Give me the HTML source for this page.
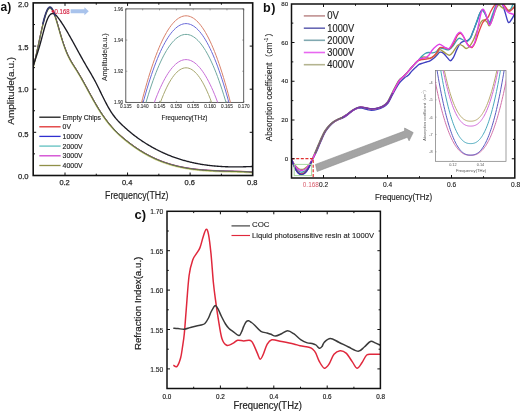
<!DOCTYPE html>
<html><head><meta charset="utf-8"><title>Figure</title>
<style>
html,body{margin:0;padding:0;background:#fff;width:520px;height:412px;overflow:hidden;}
svg{display:block;}
text{font-family:"Liberation Sans","Noto Sans CJK SC",Arial,sans-serif;font-variant-ligatures:none;font-feature-settings:"liga" 0,"clig" 0;}
</style></head><body>
<svg width="520" height="412" viewBox="0 0 520 412">
<rect width="520" height="412" fill="#fff"/>
<defs>
<clipPath id="clipA"><rect x="33.2" y="2.9" width="219.5" height="172.6"/></clipPath>
<clipPath id="clipAi"><rect x="125.8" y="8.9" width="117.89999999999999" height="93.5"/></clipPath>
<clipPath id="clipB"><rect x="291.5" y="4.0" width="223.29999999999995" height="174.0"/></clipPath>
<clipPath id="clipBi"><rect x="435.4" y="70.6" width="70.60000000000002" height="90.70000000000002"/></clipPath>
<clipPath id="clipC"><rect x="167.0" y="211.3" width="213.39999999999998" height="177.2"/></clipPath>
</defs>
<g clip-path="url(#clipA)" fill="none" stroke-linejoin="round">
<path d="M33.20,67.35 L33.95,64.66 L34.70,61.75 L35.45,58.64 L36.21,55.39 L36.96,52.01 L37.71,48.54 L38.46,45.01 L39.21,41.47 L39.96,37.93 L40.71,34.45 L41.47,31.03 L42.22,27.74 L42.97,24.58 L43.72,21.60 L44.47,18.84 L45.22,16.32 L45.97,14.08 L46.72,12.15 L47.48,10.56 L48.23,9.36 L48.98,8.56 L49.73,8.21 L50.48,8.31 L51.23,8.83 L51.98,9.74 L52.74,10.98 L53.49,12.53 L54.24,14.35 L54.99,16.39 L55.74,18.63 L56.49,21.03 L57.24,23.53 L58.00,26.12 L58.75,28.75 L59.50,31.38 L60.25,33.97 L61.00,36.51 L61.75,38.97 L62.50,41.35 L63.25,43.64 L64.01,45.85 L64.76,47.97 L65.51,49.98 L66.26,51.89 L67.01,53.69 L67.76,55.38 L68.51,56.97 L69.27,58.47 L70.02,59.89 L70.77,61.25 L71.52,62.54 L72.27,63.80 L73.02,65.01 L73.77,66.20 L74.53,67.38 L75.28,68.55 L76.03,69.73 L76.78,70.92 L77.53,72.14 L78.28,73.38 L79.03,74.64 L79.78,75.91 L80.54,77.21 L81.29,78.52 L82.04,79.84 L82.79,81.18 L83.54,82.53 L84.29,83.88 L85.04,85.25 L85.80,86.62 L86.55,87.99 L87.30,89.37 L88.05,90.75 L88.80,92.13 L89.55,93.50 L90.30,94.87 L91.06,96.24 L91.81,97.60 L92.56,98.96 L93.31,100.30 L94.06,101.63 L94.81,102.95 L95.56,104.26 L96.32,105.55 L97.07,106.82 L97.82,108.07 L98.57,109.31 L99.32,110.52 L100.07,111.70 L100.82,112.87 L101.57,114.01 L102.33,115.13 L103.08,116.23 L103.83,117.31 L104.58,118.36 L105.33,119.40 L106.08,120.41 L106.83,121.40 L107.59,122.38 L108.34,123.33 L109.09,124.26 L109.84,125.17 L110.59,126.07 L111.34,126.94 L112.09,127.79 L112.85,128.63 L113.60,129.45 L114.35,130.25 L115.10,131.03 L115.85,131.80 L116.60,132.55 L117.35,133.28 L118.10,134.00 L118.86,134.71 L119.61,135.41 L120.36,136.09 L121.11,136.76 L121.86,137.42 L122.61,138.06 L123.36,138.70 L124.12,139.33 L124.87,139.95 L125.62,140.56 L126.37,141.17 L127.12,141.77 L127.87,142.36 L128.62,142.94 L129.38,143.52 L130.13,144.09 L130.88,144.65 L131.63,145.21 L132.38,145.76 L133.13,146.30 L133.88,146.83 L134.63,147.36 L135.39,147.88 L136.14,148.40 L136.89,148.90 L137.64,149.40 L138.39,149.90 L139.14,150.38 L139.89,150.86 L140.65,151.34 L141.40,151.80 L142.15,152.26 L142.90,152.72 L143.65,153.16 L144.40,153.60 L145.15,154.03 L145.91,154.46 L146.66,154.88 L147.41,155.29 L148.16,155.70 L148.91,156.10 L149.66,156.49 L150.41,156.88 L151.17,157.26 L151.92,157.63 L152.67,158.00 L153.42,158.36 L154.17,158.71 L154.92,159.06 L155.67,159.40 L156.42,159.73 L157.18,160.06 L157.93,160.38 L158.68,160.70 L159.43,161.01 L160.18,161.31 L160.93,161.61 L161.68,161.90 L162.44,162.18 L163.19,162.46 L163.94,162.74 L164.69,163.00 L165.44,163.27 L166.19,163.52 L166.94,163.77 L167.70,164.02 L168.45,164.26 L169.20,164.49 L169.95,164.72 L170.70,164.95 L171.45,165.17 L172.20,165.38 L172.95,165.59 L173.71,165.79 L174.46,165.99 L175.21,166.19 L175.96,166.38 L176.71,166.56 L177.46,166.74 L178.21,166.92 L178.97,167.09 L179.72,167.26 L180.47,167.42 L181.22,167.58 L181.97,167.73 L182.72,167.88 L183.47,168.03 L184.23,168.17 L184.98,168.31 L185.73,168.44 L186.48,168.57 L187.23,168.70 L187.98,168.82 L188.73,168.94 L189.48,169.06 L190.24,169.17 L190.99,169.28 L191.74,169.38 L192.49,169.49 L193.24,169.59 L193.99,169.68 L194.74,169.77 L195.50,169.86 L196.25,169.95 L197.00,170.03 L197.75,170.11 L198.50,170.19 L199.25,170.27 L200.00,170.34 L200.76,170.41 L201.51,170.48 L202.26,170.54 L203.01,170.60 L203.76,170.66 L204.51,170.72 L205.26,170.78 L206.02,170.83 L206.77,170.88 L207.52,170.93 L208.27,170.98 L209.02,171.03 L209.77,171.07 L210.52,171.11 L211.27,171.15 L212.03,171.19 L212.78,171.23 L213.53,171.26 L214.28,171.30 L215.03,171.33 L215.78,171.36 L216.53,171.39 L217.29,171.42 L218.04,171.45 L218.79,171.48 L219.54,171.51 L220.29,171.53 L221.04,171.56 L221.79,171.58 L222.55,171.60 L223.30,171.62 L224.05,171.65 L224.80,171.67 L225.55,171.69 L226.30,171.71 L227.05,171.73 L227.80,171.75 L228.56,171.77 L229.31,171.79 L230.06,171.81 L230.81,171.83 L231.56,171.85 L232.31,171.87 L233.06,171.89 L233.82,171.91 L234.57,171.93 L235.32,171.95 L236.07,171.97 L236.82,172.00 L237.57,172.02 L238.32,172.04 L239.08,172.07 L239.83,172.09 L240.58,172.12 L241.33,172.14 L242.08,172.17 L242.83,172.20 L243.58,172.23 L244.33,172.26 L245.09,172.29 L245.84,172.33 L246.59,172.36 L247.34,172.40 L248.09,172.44 L248.84,172.48 L249.59,172.52 L250.35,172.56 L251.10,172.61 L251.85,172.65 L252.60,172.70" stroke="#d8d890" stroke-width="1.6"/>
<path d="M33.20,66.50 L33.95,63.81 L34.70,60.90 L35.45,57.79 L36.21,54.54 L36.96,51.16 L37.71,47.69 L38.46,44.16 L39.21,40.62 L39.96,37.08 L40.71,33.60 L41.47,30.18 L42.22,26.89 L42.97,23.73 L43.72,20.75 L44.47,17.99 L45.22,15.47 L45.97,13.23 L46.72,11.30 L47.48,9.71 L48.23,8.51 L48.98,7.71 L49.73,7.36 L50.48,7.46 L51.23,7.98 L51.98,8.89 L52.74,10.13 L53.49,11.68 L54.24,13.50 L54.99,15.54 L55.74,17.78 L56.49,20.18 L57.24,22.68 L58.00,25.27 L58.75,27.90 L59.50,30.53 L60.25,33.12 L61.00,35.66 L61.75,38.12 L62.50,40.50 L63.25,42.79 L64.01,45.00 L64.76,47.12 L65.51,49.13 L66.26,51.04 L67.01,52.84 L67.76,54.53 L68.51,56.12 L69.27,57.62 L70.02,59.04 L70.77,60.40 L71.52,61.69 L72.27,62.95 L73.02,64.16 L73.77,65.35 L74.53,66.53 L75.28,67.70 L76.03,68.88 L76.78,70.07 L77.53,71.29 L78.28,72.53 L79.03,73.79 L79.78,75.06 L80.54,76.36 L81.29,77.67 L82.04,78.99 L82.79,80.33 L83.54,81.68 L84.29,83.03 L85.04,84.40 L85.80,85.77 L86.55,87.14 L87.30,88.52 L88.05,89.90 L88.80,91.28 L89.55,92.65 L90.30,94.02 L91.06,95.39 L91.81,96.75 L92.56,98.11 L93.31,99.45 L94.06,100.78 L94.81,102.10 L95.56,103.41 L96.32,104.70 L97.07,105.97 L97.82,107.22 L98.57,108.46 L99.32,109.67 L100.07,110.85 L100.82,112.02 L101.57,113.16 L102.33,114.28 L103.08,115.38 L103.83,116.46 L104.58,117.51 L105.33,118.55 L106.08,119.56 L106.83,120.55 L107.59,121.53 L108.34,122.48 L109.09,123.41 L109.84,124.32 L110.59,125.22 L111.34,126.09 L112.09,126.94 L112.85,127.78 L113.60,128.60 L114.35,129.40 L115.10,130.18 L115.85,130.95 L116.60,131.70 L117.35,132.43 L118.10,133.15 L118.86,133.86 L119.61,134.56 L120.36,135.24 L121.11,135.91 L121.86,136.57 L122.61,137.21 L123.36,137.85 L124.12,138.48 L124.87,139.10 L125.62,139.71 L126.37,140.32 L127.12,140.92 L127.87,141.51 L128.62,142.09 L129.38,142.67 L130.13,143.24 L130.88,143.80 L131.63,144.36 L132.38,144.91 L133.13,145.45 L133.88,145.98 L134.63,146.51 L135.39,147.03 L136.14,147.55 L136.89,148.05 L137.64,148.55 L138.39,149.05 L139.14,149.53 L139.89,150.01 L140.65,150.49 L141.40,150.95 L142.15,151.41 L142.90,151.87 L143.65,152.31 L144.40,152.75 L145.15,153.18 L145.91,153.61 L146.66,154.03 L147.41,154.44 L148.16,154.85 L148.91,155.25 L149.66,155.64 L150.41,156.03 L151.17,156.41 L151.92,156.78 L152.67,157.15 L153.42,157.51 L154.17,157.86 L154.92,158.21 L155.67,158.55 L156.42,158.88 L157.18,159.21 L157.93,159.53 L158.68,159.85 L159.43,160.16 L160.18,160.46 L160.93,160.76 L161.68,161.05 L162.44,161.33 L163.19,161.61 L163.94,161.89 L164.69,162.15 L165.44,162.42 L166.19,162.67 L166.94,162.92 L167.70,163.17 L168.45,163.41 L169.20,163.64 L169.95,163.87 L170.70,164.10 L171.45,164.32 L172.20,164.53 L172.95,164.74 L173.71,164.94 L174.46,165.14 L175.21,165.34 L175.96,165.53 L176.71,165.71 L177.46,165.89 L178.21,166.07 L178.97,166.24 L179.72,166.41 L180.47,166.57 L181.22,166.73 L181.97,166.88 L182.72,167.03 L183.47,167.18 L184.23,167.32 L184.98,167.46 L185.73,167.59 L186.48,167.72 L187.23,167.85 L187.98,167.97 L188.73,168.09 L189.48,168.21 L190.24,168.32 L190.99,168.43 L191.74,168.53 L192.49,168.64 L193.24,168.74 L193.99,168.83 L194.74,168.92 L195.50,169.01 L196.25,169.10 L197.00,169.18 L197.75,169.26 L198.50,169.34 L199.25,169.42 L200.00,169.49 L200.76,169.56 L201.51,169.63 L202.26,169.69 L203.01,169.75 L203.76,169.81 L204.51,169.87 L205.26,169.93 L206.02,169.98 L206.77,170.03 L207.52,170.08 L208.27,170.13 L209.02,170.18 L209.77,170.22 L210.52,170.26 L211.27,170.30 L212.03,170.34 L212.78,170.38 L213.53,170.41 L214.28,170.45 L215.03,170.48 L215.78,170.51 L216.53,170.54 L217.29,170.57 L218.04,170.60 L218.79,170.63 L219.54,170.66 L220.29,170.68 L221.04,170.71 L221.79,170.73 L222.55,170.75 L223.30,170.77 L224.05,170.80 L224.80,170.82 L225.55,170.84 L226.30,170.86 L227.05,170.88 L227.80,170.90 L228.56,170.92 L229.31,170.94 L230.06,170.96 L230.81,170.98 L231.56,171.00 L232.31,171.02 L233.06,171.04 L233.82,171.06 L234.57,171.08 L235.32,171.10 L236.07,171.12 L236.82,171.15 L237.57,171.17 L238.32,171.19 L239.08,171.22 L239.83,171.24 L240.58,171.27 L241.33,171.29 L242.08,171.32 L242.83,171.35 L243.58,171.38 L244.33,171.41 L245.09,171.44 L245.84,171.48 L246.59,171.51 L247.34,171.55 L248.09,171.59 L248.84,171.63 L249.59,171.67 L250.35,171.71 L251.10,171.76 L251.85,171.80 L252.60,171.85" stroke="#e04040" stroke-width="1.0"/>
<path d="M33.20,66.65 L33.95,63.96 L34.70,61.05 L35.45,57.94 L36.21,54.69 L36.96,51.31 L37.71,47.84 L38.46,44.31 L39.21,40.77 L39.96,37.23 L40.71,33.75 L41.47,30.33 L42.22,27.04 L42.97,23.88 L43.72,20.90 L44.47,18.14 L45.22,15.62 L45.97,13.38 L46.72,11.45 L47.48,9.86 L48.23,8.66 L48.98,7.86 L49.73,7.51 L50.48,7.61 L51.23,8.13 L51.98,9.04 L52.74,10.28 L53.49,11.83 L54.24,13.65 L54.99,15.69 L55.74,17.93 L56.49,20.33 L57.24,22.83 L58.00,25.42 L58.75,28.05 L59.50,30.68 L60.25,33.27 L61.00,35.81 L61.75,38.27 L62.50,40.65 L63.25,42.94 L64.01,45.15 L64.76,47.27 L65.51,49.28 L66.26,51.19 L67.01,52.99 L67.76,54.68 L68.51,56.27 L69.27,57.77 L70.02,59.19 L70.77,60.55 L71.52,61.84 L72.27,63.10 L73.02,64.31 L73.77,65.50 L74.53,66.68 L75.28,67.85 L76.03,69.03 L76.78,70.22 L77.53,71.44 L78.28,72.68 L79.03,73.94 L79.78,75.21 L80.54,76.51 L81.29,77.82 L82.04,79.14 L82.79,80.48 L83.54,81.83 L84.29,83.18 L85.04,84.55 L85.80,85.92 L86.55,87.29 L87.30,88.67 L88.05,90.05 L88.80,91.43 L89.55,92.80 L90.30,94.17 L91.06,95.54 L91.81,96.90 L92.56,98.26 L93.31,99.60 L94.06,100.93 L94.81,102.25 L95.56,103.56 L96.32,104.85 L97.07,106.12 L97.82,107.37 L98.57,108.61 L99.32,109.82 L100.07,111.00 L100.82,112.17 L101.57,113.31 L102.33,114.43 L103.08,115.53 L103.83,116.61 L104.58,117.66 L105.33,118.70 L106.08,119.71 L106.83,120.70 L107.59,121.68 L108.34,122.63 L109.09,123.56 L109.84,124.47 L110.59,125.37 L111.34,126.24 L112.09,127.09 L112.85,127.93 L113.60,128.75 L114.35,129.55 L115.10,130.33 L115.85,131.10 L116.60,131.85 L117.35,132.58 L118.10,133.30 L118.86,134.01 L119.61,134.71 L120.36,135.39 L121.11,136.06 L121.86,136.72 L122.61,137.36 L123.36,138.00 L124.12,138.63 L124.87,139.25 L125.62,139.86 L126.37,140.47 L127.12,141.07 L127.87,141.66 L128.62,142.24 L129.38,142.82 L130.13,143.39 L130.88,143.95 L131.63,144.51 L132.38,145.06 L133.13,145.60 L133.88,146.13 L134.63,146.66 L135.39,147.18 L136.14,147.70 L136.89,148.20 L137.64,148.70 L138.39,149.20 L139.14,149.68 L139.89,150.16 L140.65,150.64 L141.40,151.10 L142.15,151.56 L142.90,152.02 L143.65,152.46 L144.40,152.90 L145.15,153.33 L145.91,153.76 L146.66,154.18 L147.41,154.59 L148.16,155.00 L148.91,155.40 L149.66,155.79 L150.41,156.18 L151.17,156.56 L151.92,156.93 L152.67,157.30 L153.42,157.66 L154.17,158.01 L154.92,158.36 L155.67,158.70 L156.42,159.03 L157.18,159.36 L157.93,159.68 L158.68,160.00 L159.43,160.31 L160.18,160.61 L160.93,160.91 L161.68,161.20 L162.44,161.48 L163.19,161.76 L163.94,162.04 L164.69,162.30 L165.44,162.57 L166.19,162.82 L166.94,163.07 L167.70,163.32 L168.45,163.56 L169.20,163.79 L169.95,164.02 L170.70,164.25 L171.45,164.47 L172.20,164.68 L172.95,164.89 L173.71,165.09 L174.46,165.29 L175.21,165.49 L175.96,165.68 L176.71,165.86 L177.46,166.04 L178.21,166.22 L178.97,166.39 L179.72,166.56 L180.47,166.72 L181.22,166.88 L181.97,167.03 L182.72,167.18 L183.47,167.33 L184.23,167.47 L184.98,167.61 L185.73,167.74 L186.48,167.87 L187.23,168.00 L187.98,168.12 L188.73,168.24 L189.48,168.36 L190.24,168.47 L190.99,168.58 L191.74,168.68 L192.49,168.79 L193.24,168.89 L193.99,168.98 L194.74,169.07 L195.50,169.16 L196.25,169.25 L197.00,169.33 L197.75,169.41 L198.50,169.49 L199.25,169.57 L200.00,169.64 L200.76,169.71 L201.51,169.78 L202.26,169.84 L203.01,169.90 L203.76,169.96 L204.51,170.02 L205.26,170.08 L206.02,170.13 L206.77,170.18 L207.52,170.23 L208.27,170.28 L209.02,170.33 L209.77,170.37 L210.52,170.41 L211.27,170.45 L212.03,170.49 L212.78,170.53 L213.53,170.56 L214.28,170.60 L215.03,170.63 L215.78,170.66 L216.53,170.69 L217.29,170.72 L218.04,170.75 L218.79,170.78 L219.54,170.81 L220.29,170.83 L221.04,170.86 L221.79,170.88 L222.55,170.90 L223.30,170.92 L224.05,170.95 L224.80,170.97 L225.55,170.99 L226.30,171.01 L227.05,171.03 L227.80,171.05 L228.56,171.07 L229.31,171.09 L230.06,171.11 L230.81,171.13 L231.56,171.15 L232.31,171.17 L233.06,171.19 L233.82,171.21 L234.57,171.23 L235.32,171.25 L236.07,171.27 L236.82,171.30 L237.57,171.32 L238.32,171.34 L239.08,171.37 L239.83,171.39 L240.58,171.42 L241.33,171.44 L242.08,171.47 L242.83,171.50 L243.58,171.53 L244.33,171.56 L245.09,171.59 L245.84,171.63 L246.59,171.66 L247.34,171.70 L248.09,171.74 L248.84,171.78 L249.59,171.82 L250.35,171.86 L251.10,171.91 L251.85,171.95 L252.60,172.00" stroke="#4040d0" stroke-width="1.0"/>
<path d="M33.20,66.90 L33.95,64.21 L34.70,61.30 L35.45,58.19 L36.21,54.94 L36.96,51.56 L37.71,48.09 L38.46,44.56 L39.21,41.02 L39.96,37.48 L40.71,34.00 L41.47,30.58 L42.22,27.29 L42.97,24.13 L43.72,21.15 L44.47,18.39 L45.22,15.87 L45.97,13.63 L46.72,11.70 L47.48,10.11 L48.23,8.91 L48.98,8.11 L49.73,7.76 L50.48,7.86 L51.23,8.38 L51.98,9.29 L52.74,10.53 L53.49,12.08 L54.24,13.90 L54.99,15.94 L55.74,18.18 L56.49,20.58 L57.24,23.08 L58.00,25.67 L58.75,28.30 L59.50,30.93 L60.25,33.52 L61.00,36.06 L61.75,38.52 L62.50,40.90 L63.25,43.19 L64.01,45.40 L64.76,47.52 L65.51,49.53 L66.26,51.44 L67.01,53.24 L67.76,54.93 L68.51,56.52 L69.27,58.02 L70.02,59.44 L70.77,60.80 L71.52,62.09 L72.27,63.35 L73.02,64.56 L73.77,65.75 L74.53,66.93 L75.28,68.10 L76.03,69.28 L76.78,70.47 L77.53,71.69 L78.28,72.93 L79.03,74.19 L79.78,75.46 L80.54,76.76 L81.29,78.07 L82.04,79.39 L82.79,80.73 L83.54,82.08 L84.29,83.43 L85.04,84.80 L85.80,86.17 L86.55,87.54 L87.30,88.92 L88.05,90.30 L88.80,91.68 L89.55,93.05 L90.30,94.42 L91.06,95.79 L91.81,97.15 L92.56,98.51 L93.31,99.85 L94.06,101.18 L94.81,102.50 L95.56,103.81 L96.32,105.10 L97.07,106.37 L97.82,107.62 L98.57,108.86 L99.32,110.07 L100.07,111.25 L100.82,112.42 L101.57,113.56 L102.33,114.68 L103.08,115.78 L103.83,116.86 L104.58,117.91 L105.33,118.95 L106.08,119.96 L106.83,120.95 L107.59,121.93 L108.34,122.88 L109.09,123.81 L109.84,124.72 L110.59,125.62 L111.34,126.49 L112.09,127.34 L112.85,128.18 L113.60,129.00 L114.35,129.80 L115.10,130.58 L115.85,131.35 L116.60,132.10 L117.35,132.83 L118.10,133.55 L118.86,134.26 L119.61,134.96 L120.36,135.64 L121.11,136.31 L121.86,136.97 L122.61,137.61 L123.36,138.25 L124.12,138.88 L124.87,139.50 L125.62,140.11 L126.37,140.72 L127.12,141.32 L127.87,141.91 L128.62,142.49 L129.38,143.07 L130.13,143.64 L130.88,144.20 L131.63,144.76 L132.38,145.31 L133.13,145.85 L133.88,146.38 L134.63,146.91 L135.39,147.43 L136.14,147.95 L136.89,148.45 L137.64,148.95 L138.39,149.45 L139.14,149.93 L139.89,150.41 L140.65,150.89 L141.40,151.35 L142.15,151.81 L142.90,152.27 L143.65,152.71 L144.40,153.15 L145.15,153.58 L145.91,154.01 L146.66,154.43 L147.41,154.84 L148.16,155.25 L148.91,155.65 L149.66,156.04 L150.41,156.43 L151.17,156.81 L151.92,157.18 L152.67,157.55 L153.42,157.91 L154.17,158.26 L154.92,158.61 L155.67,158.95 L156.42,159.28 L157.18,159.61 L157.93,159.93 L158.68,160.25 L159.43,160.56 L160.18,160.86 L160.93,161.16 L161.68,161.45 L162.44,161.73 L163.19,162.01 L163.94,162.29 L164.69,162.55 L165.44,162.82 L166.19,163.07 L166.94,163.32 L167.70,163.57 L168.45,163.81 L169.20,164.04 L169.95,164.27 L170.70,164.50 L171.45,164.72 L172.20,164.93 L172.95,165.14 L173.71,165.34 L174.46,165.54 L175.21,165.74 L175.96,165.93 L176.71,166.11 L177.46,166.29 L178.21,166.47 L178.97,166.64 L179.72,166.81 L180.47,166.97 L181.22,167.13 L181.97,167.28 L182.72,167.43 L183.47,167.58 L184.23,167.72 L184.98,167.86 L185.73,167.99 L186.48,168.12 L187.23,168.25 L187.98,168.37 L188.73,168.49 L189.48,168.61 L190.24,168.72 L190.99,168.83 L191.74,168.93 L192.49,169.04 L193.24,169.14 L193.99,169.23 L194.74,169.32 L195.50,169.41 L196.25,169.50 L197.00,169.58 L197.75,169.66 L198.50,169.74 L199.25,169.82 L200.00,169.89 L200.76,169.96 L201.51,170.03 L202.26,170.09 L203.01,170.15 L203.76,170.21 L204.51,170.27 L205.26,170.33 L206.02,170.38 L206.77,170.43 L207.52,170.48 L208.27,170.53 L209.02,170.58 L209.77,170.62 L210.52,170.66 L211.27,170.70 L212.03,170.74 L212.78,170.78 L213.53,170.81 L214.28,170.85 L215.03,170.88 L215.78,170.91 L216.53,170.94 L217.29,170.97 L218.04,171.00 L218.79,171.03 L219.54,171.06 L220.29,171.08 L221.04,171.11 L221.79,171.13 L222.55,171.15 L223.30,171.17 L224.05,171.20 L224.80,171.22 L225.55,171.24 L226.30,171.26 L227.05,171.28 L227.80,171.30 L228.56,171.32 L229.31,171.34 L230.06,171.36 L230.81,171.38 L231.56,171.40 L232.31,171.42 L233.06,171.44 L233.82,171.46 L234.57,171.48 L235.32,171.50 L236.07,171.52 L236.82,171.55 L237.57,171.57 L238.32,171.59 L239.08,171.62 L239.83,171.64 L240.58,171.67 L241.33,171.69 L242.08,171.72 L242.83,171.75 L243.58,171.78 L244.33,171.81 L245.09,171.84 L245.84,171.88 L246.59,171.91 L247.34,171.95 L248.09,171.99 L248.84,172.03 L249.59,172.07 L250.35,172.11 L251.10,172.16 L251.85,172.20 L252.60,172.25" stroke="#6a7a40" stroke-width="1.15"/>
<path d="M33.20,66.04 L33.95,63.66 L34.70,61.35 L35.45,59.09 L36.21,56.84 L36.96,54.57 L37.71,52.26 L38.46,49.88 L39.21,47.40 L39.96,44.78 L40.71,42.05 L41.47,39.24 L42.22,36.39 L42.97,33.55 L43.72,30.75 L44.47,28.05 L45.22,25.49 L45.97,23.10 L46.72,20.94 L47.48,19.04 L48.23,17.45 L48.98,16.15 L49.73,15.14 L50.48,14.39 L51.23,13.89 L51.98,13.62 L52.74,13.56 L53.49,13.70 L54.24,14.01 L54.99,14.48 L55.74,15.08 L56.49,15.81 L57.24,16.64 L58.00,17.56 L58.75,18.55 L59.50,19.58 L60.25,20.65 L61.00,21.75 L61.75,22.88 L62.50,24.03 L63.25,25.20 L64.01,26.40 L64.76,27.62 L65.51,28.86 L66.26,30.12 L67.01,31.39 L67.76,32.68 L68.51,33.99 L69.27,35.31 L70.02,36.64 L70.77,37.98 L71.52,39.33 L72.27,40.68 L73.02,42.04 L73.77,43.41 L74.53,44.78 L75.28,46.15 L76.03,47.53 L76.78,48.90 L77.53,50.26 L78.28,51.63 L79.03,52.99 L79.78,54.35 L80.54,55.70 L81.29,57.05 L82.04,58.39 L82.79,59.73 L83.54,61.06 L84.29,62.39 L85.04,63.70 L85.80,65.01 L86.55,66.31 L87.30,67.61 L88.05,68.89 L88.80,70.17 L89.55,71.43 L90.30,72.70 L91.06,73.97 L91.81,75.25 L92.56,76.54 L93.31,77.87 L94.06,79.22 L94.81,80.61 L95.56,82.05 L96.32,83.51 L97.07,85.00 L97.82,86.51 L98.57,88.03 L99.32,89.57 L100.07,91.11 L100.82,92.65 L101.57,94.19 L102.33,95.72 L103.08,97.24 L103.83,98.75 L104.58,100.24 L105.33,101.71 L106.08,103.16 L106.83,104.57 L107.59,105.96 L108.34,107.31 L109.09,108.63 L109.84,109.90 L110.59,111.12 L111.34,112.30 L112.09,113.43 L112.85,114.50 L113.60,115.53 L114.35,116.51 L115.10,117.46 L115.85,118.37 L116.60,119.24 L117.35,120.09 L118.10,120.91 L118.86,121.70 L119.61,122.47 L120.36,123.23 L121.11,123.97 L121.86,124.70 L122.61,125.41 L123.36,126.12 L124.12,126.83 L124.87,127.52 L125.62,128.20 L126.37,128.87 L127.12,129.53 L127.87,130.19 L128.62,130.83 L129.38,131.47 L130.13,132.10 L130.88,132.72 L131.63,133.33 L132.38,133.93 L133.13,134.53 L133.88,135.11 L134.63,135.69 L135.39,136.26 L136.14,136.83 L136.89,137.38 L137.64,137.93 L138.39,138.47 L139.14,139.00 L139.89,139.53 L140.65,140.05 L141.40,140.56 L142.15,141.07 L142.90,141.56 L143.65,142.06 L144.40,142.54 L145.15,143.02 L145.91,143.49 L146.66,143.96 L147.41,144.42 L148.16,144.87 L148.91,145.32 L149.66,145.76 L150.41,146.20 L151.17,146.63 L151.92,147.06 L152.67,147.48 L153.42,147.89 L154.17,148.30 L154.92,148.70 L155.67,149.10 L156.42,149.50 L157.18,149.88 L157.93,150.26 L158.68,150.64 L159.43,151.01 L160.18,151.38 L160.93,151.74 L161.68,152.09 L162.44,152.44 L163.19,152.79 L163.94,153.13 L164.69,153.47 L165.44,153.80 L166.19,154.12 L166.94,154.44 L167.70,154.76 L168.45,155.07 L169.20,155.37 L169.95,155.67 L170.70,155.97 L171.45,156.26 L172.20,156.54 L172.95,156.82 L173.71,157.10 L174.46,157.37 L175.21,157.64 L175.96,157.90 L176.71,158.16 L177.46,158.42 L178.21,158.67 L178.97,158.91 L179.72,159.15 L180.47,159.39 L181.22,159.62 L181.97,159.84 L182.72,160.07 L183.47,160.29 L184.23,160.50 L184.98,160.71 L185.73,160.92 L186.48,161.12 L187.23,161.32 L187.98,161.51 L188.73,161.70 L189.48,161.89 L190.24,162.07 L190.99,162.25 L191.74,162.42 L192.49,162.59 L193.24,162.76 L193.99,162.92 L194.74,163.08 L195.50,163.23 L196.25,163.38 L197.00,163.53 L197.75,163.67 L198.50,163.81 L199.25,163.95 L200.00,164.08 L200.76,164.21 L201.51,164.34 L202.26,164.46 L203.01,164.58 L203.76,164.69 L204.51,164.81 L205.26,164.92 L206.02,165.02 L206.77,165.12 L207.52,165.22 L208.27,165.32 L209.02,165.41 L209.77,165.50 L210.52,165.59 L211.27,165.67 L212.03,165.75 L212.78,165.83 L213.53,165.90 L214.28,165.97 L215.03,166.04 L215.78,166.11 L216.53,166.17 L217.29,166.23 L218.04,166.29 L218.79,166.34 L219.54,166.39 L220.29,166.44 L221.04,166.49 L221.79,166.53 L222.55,166.57 L223.30,166.61 L224.05,166.65 L224.80,166.68 L225.55,166.71 L226.30,166.74 L227.05,166.76 L227.80,166.79 L228.56,166.81 L229.31,166.83 L230.06,166.85 L230.81,166.86 L231.56,166.87 L232.31,166.88 L233.06,166.89 L233.82,166.90 L234.57,166.90 L235.32,166.90 L236.07,166.90 L236.82,166.90 L237.57,166.89 L238.32,166.89 L239.08,166.88 L239.83,166.87 L240.58,166.86 L241.33,166.84 L242.08,166.83 L242.83,166.81 L243.58,166.79 L244.33,166.77 L245.09,166.75 L245.84,166.73 L246.59,166.70 L247.34,166.67 L248.09,166.65 L248.84,166.62 L249.59,166.59 L250.35,166.55 L251.10,166.52 L251.85,166.48 L252.60,166.45" stroke="#1c1c24" stroke-width="1.35"/>
<path d="M42.97,23.48 L43.72,20.50 L44.47,17.74 L45.22,15.22 L45.97,12.98 L46.72,11.05 L47.48,9.46 L48.23,8.26 L48.98,7.46 L49.73,7.11 L50.48,7.21 L51.23,7.73 L51.98,8.64 L52.74,9.88 L53.49,11.43 L54.24,13.25 L54.99,15.29" stroke="#2c3470" stroke-width="1.7" stroke-linecap="round" opacity="0.9"/>
</g>
<rect x="125.8" y="8.9" width="117.89999999999999" height="93.5" fill="#fff" stroke="#444" stroke-width="0.85"/>
<g clip-path="url(#clipAi)" fill="none">
<path d="M120.00,207.03 L121.50,198.43 L123.00,190.04 L124.50,181.84 L126.00,173.84 L127.50,166.04 L129.00,158.43 L130.50,151.02 L132.00,143.81 L133.50,136.80 L135.00,129.98 L136.50,123.37 L138.00,116.95 L139.50,110.72 L141.00,104.70 L142.50,98.87 L144.00,93.24 L145.50,87.81 L147.00,82.57 L148.50,77.53 L150.00,72.69 L151.50,68.05 L153.00,63.61 L154.50,59.36 L156.00,55.31 L157.50,51.46 L159.00,47.80 L160.50,44.35 L162.00,41.09 L163.50,38.02 L165.00,35.16 L166.50,32.49 L168.00,30.02 L169.50,27.75 L171.00,25.68 L172.50,23.80 L174.00,22.12 L175.50,20.64 L177.00,19.36 L178.50,18.27 L180.00,17.38 L181.50,16.69 L183.00,16.20 L184.50,15.90 L186.00,15.80 L187.50,15.90 L189.00,16.20 L190.50,16.69 L192.00,17.38 L193.50,18.27 L195.00,19.36 L196.50,20.64 L198.00,22.12 L199.50,23.80 L201.00,25.68 L202.50,27.75 L204.00,30.02 L205.50,32.49 L207.00,35.16 L208.50,38.02 L210.00,41.09 L211.50,44.35 L213.00,47.80 L214.50,51.46 L216.00,55.31 L217.50,59.36 L219.00,63.61 L220.50,68.05 L222.00,72.69 L223.50,77.53 L225.00,82.57 L226.50,87.81 L228.00,93.24 L229.50,98.87 L231.00,104.70 L232.50,110.72 L234.00,116.95 L235.50,123.37 L237.00,129.98 L238.50,136.80 L240.00,143.81 L241.50,151.02 L243.00,158.43 L244.50,166.04 L246.00,173.84 L247.50,181.84" stroke="#d8806a" stroke-width="1.0"/>
<path d="M120.00,210.47 L121.50,202.07 L123.00,193.87 L124.50,185.86 L126.00,178.04 L127.50,170.41 L129.00,162.98 L130.50,155.74 L132.00,148.70 L133.50,141.84 L135.00,135.18 L136.50,128.72 L138.00,122.44 L139.50,116.36 L141.00,110.47 L142.50,104.78 L144.00,99.28 L145.50,93.97 L147.00,88.85 L148.50,83.93 L150.00,79.20 L151.50,74.66 L153.00,70.32 L154.50,66.17 L156.00,62.21 L157.50,58.45 L159.00,54.87 L160.50,51.50 L162.00,48.31 L163.50,45.32 L165.00,42.52 L166.50,39.91 L168.00,37.50 L169.50,35.28 L171.00,33.25 L172.50,31.42 L174.00,29.78 L175.50,28.33 L177.00,27.07 L178.50,26.01 L180.00,25.14 L181.50,24.47 L183.00,23.99 L184.50,23.70 L186.00,23.60 L187.50,23.70 L189.00,23.99 L190.50,24.47 L192.00,25.14 L193.50,26.01 L195.00,27.07 L196.50,28.33 L198.00,29.78 L199.50,31.42 L201.00,33.25 L202.50,35.28 L204.00,37.50 L205.50,39.91 L207.00,42.52 L208.50,45.32 L210.00,48.31 L211.50,51.50 L213.00,54.87 L214.50,58.45 L216.00,62.21 L217.50,66.17 L219.00,70.32 L220.50,74.66 L222.00,79.20 L223.50,83.93 L225.00,88.85 L226.50,93.97 L228.00,99.28 L229.50,104.78 L231.00,110.47 L232.50,116.36 L234.00,122.44 L235.50,128.72 L237.00,135.18 L238.50,141.84 L240.00,148.70 L241.50,155.74 L243.00,162.98 L244.50,170.41 L246.00,178.04 L247.50,185.86" stroke="#6a6ad8" stroke-width="1.0"/>
<path d="M120.00,219.53 L121.50,211.21 L123.00,203.08 L124.50,195.15 L126.00,187.40 L127.50,179.85 L129.00,172.48 L130.50,165.31 L132.00,158.33 L133.50,151.54 L135.00,144.94 L136.50,138.54 L138.00,132.32 L139.50,126.30 L141.00,120.46 L142.50,114.82 L144.00,109.37 L145.50,104.11 L147.00,99.04 L148.50,94.17 L150.00,89.48 L151.50,84.99 L153.00,80.68 L154.50,76.57 L156.00,72.65 L157.50,68.92 L159.00,65.38 L160.50,62.04 L162.00,58.88 L163.50,55.92 L165.00,53.14 L166.50,50.56 L168.00,48.17 L169.50,45.97 L171.00,43.96 L172.50,42.15 L174.00,40.52 L175.50,39.09 L177.00,37.84 L178.50,36.79 L180.00,35.93 L181.50,35.26 L183.00,34.78 L184.50,34.50 L186.00,34.40 L187.50,34.50 L189.00,34.78 L190.50,35.26 L192.00,35.93 L193.50,36.79 L195.00,37.84 L196.50,39.09 L198.00,40.52 L199.50,42.15 L201.00,43.96 L202.50,45.97 L204.00,48.17 L205.50,50.56 L207.00,53.14 L208.50,55.92 L210.00,58.88 L211.50,62.04 L213.00,65.38 L214.50,68.92 L216.00,72.65 L217.50,76.57 L219.00,80.68 L220.50,84.99 L222.00,89.48 L223.50,94.17 L225.00,99.04 L226.50,104.11 L228.00,109.37 L229.50,114.82 L231.00,120.46 L232.50,126.30 L234.00,132.32 L235.50,138.54 L237.00,144.94 L238.50,151.54 L240.00,158.33 L241.50,165.31 L243.00,172.48 L244.50,179.85 L246.00,187.40 L247.50,195.15" stroke="#70a8a0" stroke-width="1.0"/>
<path d="M120.00,245.60 L121.50,237.24 L123.00,229.08 L124.50,221.10 L126.00,213.32 L127.50,205.73 L129.00,198.33 L130.50,191.13 L132.00,184.11 L133.50,177.29 L135.00,170.66 L136.50,164.23 L138.00,157.98 L139.50,151.93 L141.00,146.07 L142.50,140.40 L144.00,134.92 L145.50,129.64 L147.00,124.55 L148.50,119.65 L150.00,114.94 L151.50,110.42 L153.00,106.10 L154.50,101.97 L156.00,98.03 L157.50,94.28 L159.00,90.73 L160.50,87.37 L162.00,84.20 L163.50,81.22 L165.00,78.43 L166.50,75.84 L168.00,73.43 L169.50,71.23 L171.00,69.21 L172.50,67.38 L174.00,65.75 L175.50,64.31 L177.00,63.06 L178.50,62.00 L180.00,61.14 L181.50,60.46 L183.00,59.98 L184.50,59.70 L186.00,59.60 L187.50,59.70 L189.00,59.98 L190.50,60.46 L192.00,61.14 L193.50,62.00 L195.00,63.06 L196.50,64.31 L198.00,65.75 L199.50,67.38 L201.00,69.21 L202.50,71.23 L204.00,73.43 L205.50,75.84 L207.00,78.43 L208.50,81.22 L210.00,84.20 L211.50,87.37 L213.00,90.73 L214.50,94.28 L216.00,98.03 L217.50,101.97 L219.00,106.10 L220.50,110.42 L222.00,114.94 L223.50,119.65 L225.00,124.55 L226.50,129.64 L228.00,134.92 L229.50,140.40 L231.00,146.07 L232.50,151.93 L234.00,157.98 L235.50,164.23 L237.00,170.66 L238.50,177.29 L240.00,184.11 L241.50,191.13 L243.00,198.33 L244.50,205.73 L246.00,213.32 L247.50,221.10" stroke="#c870d8" stroke-width="1.0"/>
<path d="M120.00,297.80 L121.50,287.46 L123.00,277.36 L124.50,267.50 L126.00,257.88 L127.50,248.49 L129.00,239.35 L130.50,230.44 L132.00,221.76 L133.50,213.33 L135.00,205.13 L136.50,197.17 L138.00,189.45 L139.50,181.97 L141.00,174.72 L142.50,167.71 L144.00,160.94 L145.50,154.41 L147.00,148.11 L148.50,142.05 L150.00,136.23 L151.50,130.65 L153.00,125.30 L154.50,120.19 L156.00,115.32 L157.50,110.69 L159.00,106.29 L160.50,102.13 L162.00,98.21 L163.50,94.53 L165.00,91.08 L166.50,87.88 L168.00,84.91 L169.50,82.17 L171.00,79.68 L172.50,77.42 L174.00,75.40 L175.50,73.62 L177.00,72.08 L178.50,70.77 L180.00,69.70 L181.50,68.87 L183.00,68.28 L184.50,67.92 L186.00,67.80 L187.50,67.92 L189.00,68.28 L190.50,68.87 L192.00,69.70 L193.50,70.77 L195.00,72.08 L196.50,73.62 L198.00,75.40 L199.50,77.42 L201.00,79.68 L202.50,82.17 L204.00,84.91 L205.50,87.88 L207.00,91.08 L208.50,94.53 L210.00,98.21 L211.50,102.13 L213.00,106.29 L214.50,110.69 L216.00,115.32 L217.50,120.19 L219.00,125.30 L220.50,130.65 L222.00,136.23 L223.50,142.05 L225.00,148.11 L226.50,154.41 L228.00,160.94 L229.50,167.71 L231.00,174.72 L232.50,181.97 L234.00,189.45 L235.50,197.17 L237.00,205.13 L238.50,213.33 L240.00,221.76 L241.50,230.44 L243.00,239.35 L244.50,248.49 L246.00,257.88 L247.50,267.50" stroke="#a8a870" stroke-width="1.0"/>
</g>
<line x1="125.80" y1="102.4" x2="125.80" y2="100.9" stroke="#555" stroke-width="0.5"/>
<line x1="125.80" y1="8.9" x2="125.80" y2="10.4" stroke="#555" stroke-width="0.5"/>
<text x="125.8" y="108.3" font-size="4.7" text-anchor="middle" fill="#333" font-weight="normal" stroke="#333" stroke-width="0.1" >0.135</text>
<line x1="142.66" y1="102.4" x2="142.66" y2="100.9" stroke="#555" stroke-width="0.5"/>
<line x1="142.66" y1="8.9" x2="142.66" y2="10.4" stroke="#555" stroke-width="0.5"/>
<text x="142.66" y="108.3" font-size="4.7" text-anchor="middle" fill="#333" font-weight="normal" stroke="#333" stroke-width="0.1" >0.140</text>
<line x1="159.52" y1="102.4" x2="159.52" y2="100.9" stroke="#555" stroke-width="0.5"/>
<line x1="159.52" y1="8.9" x2="159.52" y2="10.4" stroke="#555" stroke-width="0.5"/>
<text x="159.52" y="108.3" font-size="4.7" text-anchor="middle" fill="#333" font-weight="normal" stroke="#333" stroke-width="0.1" >0.145</text>
<line x1="176.38" y1="102.4" x2="176.38" y2="100.9" stroke="#555" stroke-width="0.5"/>
<line x1="176.38" y1="8.9" x2="176.38" y2="10.4" stroke="#555" stroke-width="0.5"/>
<text x="176.38" y="108.3" font-size="4.7" text-anchor="middle" fill="#333" font-weight="normal" stroke="#333" stroke-width="0.1" >0.150</text>
<line x1="193.24" y1="102.4" x2="193.24" y2="100.9" stroke="#555" stroke-width="0.5"/>
<line x1="193.24" y1="8.9" x2="193.24" y2="10.4" stroke="#555" stroke-width="0.5"/>
<text x="193.24" y="108.3" font-size="4.7" text-anchor="middle" fill="#333" font-weight="normal" stroke="#333" stroke-width="0.1" >0.155</text>
<line x1="210.10" y1="102.4" x2="210.10" y2="100.9" stroke="#555" stroke-width="0.5"/>
<line x1="210.10" y1="8.9" x2="210.10" y2="10.4" stroke="#555" stroke-width="0.5"/>
<text x="210.1" y="108.3" font-size="4.7" text-anchor="middle" fill="#333" font-weight="normal" stroke="#333" stroke-width="0.1" >0.160</text>
<line x1="226.96" y1="102.4" x2="226.96" y2="100.9" stroke="#555" stroke-width="0.5"/>
<line x1="226.96" y1="8.9" x2="226.96" y2="10.4" stroke="#555" stroke-width="0.5"/>
<text x="226.96" y="108.3" font-size="4.7" text-anchor="middle" fill="#333" font-weight="normal" stroke="#333" stroke-width="0.1" >0.165</text>
<line x1="243.82" y1="102.4" x2="243.82" y2="100.9" stroke="#555" stroke-width="0.5"/>
<line x1="243.82" y1="8.9" x2="243.82" y2="10.4" stroke="#555" stroke-width="0.5"/>
<text x="243.82" y="108.3" font-size="4.7" text-anchor="middle" fill="#333" font-weight="normal" stroke="#333" stroke-width="0.1" >0.170</text>
<line x1="125.8" y1="8.90" x2="127.3" y2="8.90" stroke="#555" stroke-width="0.5"/>
<line x1="243.7" y1="8.90" x2="242.2" y2="8.90" stroke="#555" stroke-width="0.5"/>
<text x="123.2" y="10.6" font-size="4.7" text-anchor="end" fill="#333" font-weight="normal" stroke="#333" stroke-width="0.1" >1.96</text>
<line x1="125.8" y1="40.07" x2="127.3" y2="40.07" stroke="#555" stroke-width="0.5"/>
<line x1="243.7" y1="40.07" x2="242.2" y2="40.07" stroke="#555" stroke-width="0.5"/>
<text x="123.2" y="41.77" font-size="4.7" text-anchor="end" fill="#333" font-weight="normal" stroke="#333" stroke-width="0.1" >1.94</text>
<line x1="125.8" y1="71.24" x2="127.3" y2="71.24" stroke="#555" stroke-width="0.5"/>
<line x1="243.7" y1="71.24" x2="242.2" y2="71.24" stroke="#555" stroke-width="0.5"/>
<text x="123.2" y="72.94" font-size="4.7" text-anchor="end" fill="#333" font-weight="normal" stroke="#333" stroke-width="0.1" >1.92</text>
<line x1="125.8" y1="102.41" x2="127.3" y2="102.41" stroke="#555" stroke-width="0.5"/>
<line x1="243.7" y1="102.41" x2="242.2" y2="102.41" stroke="#555" stroke-width="0.5"/>
<text x="123.2" y="104.11" font-size="4.7" text-anchor="end" fill="#333" font-weight="normal" stroke="#333" stroke-width="0.1" >1.90</text>
<text x="184.5" y="119.8" font-size="6.3" text-anchor="middle" fill="#222" font-weight="normal" textLength="46.0" lengthAdjust="spacingAndGlyphs" stroke="#222" stroke-width="0.12" >Frequency(THz)</text>
<text transform="translate(107.2,57.2) rotate(-90)" font-size="6.6" text-anchor="middle" fill="#333" textLength="47.5" lengthAdjust="spacingAndGlyphs" stroke="#333" stroke-width="0.12" >Amplitude(a.u.)</text>
<rect x="33.2" y="2.9" width="219.5" height="172.6" fill="none" stroke="#111" stroke-width="1.6"/>
<line x1="65.00" y1="175.5" x2="65.00" y2="172.5" stroke="#111" stroke-width="1"/>
<line x1="65.00" y1="2.9" x2="65.00" y2="5.9" stroke="#111" stroke-width="1"/>
<line x1="96.28" y1="175.5" x2="96.28" y2="173.7" stroke="#111" stroke-width="1"/>
<line x1="96.28" y1="2.9" x2="96.28" y2="4.7" stroke="#111" stroke-width="1"/>
<line x1="127.56" y1="175.5" x2="127.56" y2="172.5" stroke="#111" stroke-width="1"/>
<line x1="127.56" y1="2.9" x2="127.56" y2="5.9" stroke="#111" stroke-width="1"/>
<line x1="158.84" y1="175.5" x2="158.84" y2="173.7" stroke="#111" stroke-width="1"/>
<line x1="158.84" y1="2.9" x2="158.84" y2="4.7" stroke="#111" stroke-width="1"/>
<line x1="190.12" y1="175.5" x2="190.12" y2="172.5" stroke="#111" stroke-width="1"/>
<line x1="190.12" y1="2.9" x2="190.12" y2="5.9" stroke="#111" stroke-width="1"/>
<line x1="221.40" y1="175.5" x2="221.40" y2="173.7" stroke="#111" stroke-width="1"/>
<line x1="221.40" y1="2.9" x2="221.40" y2="4.7" stroke="#111" stroke-width="1"/>
<line x1="33.2" y1="153.85" x2="35.0" y2="153.85" stroke="#111" stroke-width="1"/>
<line x1="33.2" y1="132.30" x2="36.2" y2="132.30" stroke="#111" stroke-width="1"/>
<line x1="252.7" y1="132.30" x2="249.7" y2="132.30" stroke="#111" stroke-width="1"/>
<line x1="33.2" y1="110.75" x2="35.0" y2="110.75" stroke="#111" stroke-width="1"/>
<line x1="33.2" y1="89.20" x2="36.2" y2="89.20" stroke="#111" stroke-width="1"/>
<line x1="252.7" y1="89.20" x2="249.7" y2="89.20" stroke="#111" stroke-width="1"/>
<line x1="33.2" y1="67.65" x2="35.0" y2="67.65" stroke="#111" stroke-width="1"/>
<line x1="33.2" y1="46.10" x2="36.2" y2="46.10" stroke="#111" stroke-width="1"/>
<line x1="252.7" y1="46.10" x2="249.7" y2="46.10" stroke="#111" stroke-width="1"/>
<line x1="33.2" y1="24.55" x2="35.0" y2="24.55" stroke="#111" stroke-width="1"/>
<text x="28.5" y="6.9" font-size="8.1" text-anchor="end" fill="#262626" font-weight="normal" textLength="10.6" lengthAdjust="spacingAndGlyphs" stroke="#262626" stroke-width="0.25" >2.0</text>
<text x="28.5" y="50.3" font-size="8.1" text-anchor="end" fill="#262626" font-weight="normal" textLength="10.6" lengthAdjust="spacingAndGlyphs" stroke="#262626" stroke-width="0.25" >1.5</text>
<text x="28.5" y="92.4" font-size="8.1" text-anchor="end" fill="#262626" font-weight="normal" textLength="10.6" lengthAdjust="spacingAndGlyphs" stroke="#262626" stroke-width="0.25" >1.0</text>
<text x="28.5" y="136.6" font-size="8.1" text-anchor="end" fill="#262626" font-weight="normal" textLength="10.6" lengthAdjust="spacingAndGlyphs" stroke="#262626" stroke-width="0.25" >0.5</text>
<text x="28.5" y="179.1" font-size="8.1" text-anchor="end" fill="#262626" font-weight="normal" textLength="10.6" lengthAdjust="spacingAndGlyphs" stroke="#262626" stroke-width="0.25" >0.0</text>
<text x="64.6" y="184.9" font-size="8.1" text-anchor="middle" fill="#262626" font-weight="normal" textLength="10.4" lengthAdjust="spacingAndGlyphs" stroke="#262626" stroke-width="0.25" >0.2</text>
<text x="127.16" y="184.9" font-size="8.1" text-anchor="middle" fill="#262626" font-weight="normal" textLength="10.4" lengthAdjust="spacingAndGlyphs" stroke="#262626" stroke-width="0.25" >0.4</text>
<text x="189.72" y="184.9" font-size="8.1" text-anchor="middle" fill="#262626" font-weight="normal" textLength="10.4" lengthAdjust="spacingAndGlyphs" stroke="#262626" stroke-width="0.25" >0.6</text>
<text x="252.28" y="184.9" font-size="8.1" text-anchor="middle" fill="#262626" font-weight="normal" textLength="10.4" lengthAdjust="spacingAndGlyphs" stroke="#262626" stroke-width="0.25" >0.8</text>
<text x="136.8" y="198.7" font-size="10.0" text-anchor="middle" fill="#222" font-weight="normal" textLength="63.5" lengthAdjust="spacingAndGlyphs" stroke="#222" stroke-width="0.15" >Frequency(THz)</text>
<text transform="translate(13.9,90.8) rotate(-90)" font-size="9.2" text-anchor="middle" fill="#222" textLength="68.0" lengthAdjust="spacingAndGlyphs" stroke="#222" stroke-width="0.15" >Amplitude(a.u.)</text>
<text x="0.6" y="10.8" font-size="12.0" text-anchor="start" fill="#111" font-weight="bold" >a)</text>
<line x1="39.3" y1="117.2" x2="60.6" y2="117.2" stroke="#1a1a1a" stroke-width="1.3"/>
<text x="62.6" y="119.7" font-size="7.0" text-anchor="start" fill="#222" font-weight="normal" textLength="38.4" lengthAdjust="spacingAndGlyphs" stroke="#222" stroke-width="0.15" >Empty Chips</text>
<line x1="39.3" y1="126.8" x2="60.6" y2="126.8" stroke="#e03030" stroke-width="1.3"/>
<text x="62.6" y="129.3" font-size="7.0" text-anchor="start" fill="#222" font-weight="normal" textLength="8.4" lengthAdjust="spacingAndGlyphs" stroke="#222" stroke-width="0.15" >0V</text>
<line x1="39.3" y1="136.4" x2="60.6" y2="136.4" stroke="#3030d0" stroke-width="1.3"/>
<text x="62.6" y="138.9" font-size="7.0" text-anchor="start" fill="#222" font-weight="normal" textLength="20.0" lengthAdjust="spacingAndGlyphs" stroke="#222" stroke-width="0.15" >1000V</text>
<line x1="39.3" y1="146.1" x2="60.6" y2="146.1" stroke="#60c0c0" stroke-width="1.3"/>
<text x="62.6" y="148.6" font-size="7.0" text-anchor="start" fill="#222" font-weight="normal" textLength="20.0" lengthAdjust="spacingAndGlyphs" stroke="#222" stroke-width="0.15" >2000V</text>
<line x1="39.3" y1="155.8" x2="60.6" y2="155.8" stroke="#d040d0" stroke-width="1.3"/>
<text x="62.6" y="158.3" font-size="7.0" text-anchor="start" fill="#222" font-weight="normal" textLength="20.0" lengthAdjust="spacingAndGlyphs" stroke="#222" stroke-width="0.15" >3000V</text>
<line x1="39.3" y1="165.5" x2="60.6" y2="165.5" stroke="#909048" stroke-width="1.3"/>
<text x="62.6" y="168.0" font-size="7.0" text-anchor="start" fill="#222" font-weight="normal" textLength="20.0" lengthAdjust="spacingAndGlyphs" stroke="#222" stroke-width="0.15" >4000V</text>
<circle cx="52.9" cy="11.4" r="1.3" fill="#d42040"/>
<text x="54.6" y="13.5" font-size="7.0" text-anchor="start" fill="#d42040" font-weight="normal" textLength="15.0" lengthAdjust="spacingAndGlyphs" stroke="#d42040" stroke-width="0.15" >0.168</text>
<path d="M70.6,9.3 L84.4,9.3 L84.4,7.3 L88.8,11.3 L84.4,15.3 L84.4,13.3 L70.6,13.3 Z" fill="#a9c3ec"/>
<g clip-path="url(#clipB)" fill="none" stroke-linejoin="round">
<path d="M291.60,159.50 C291.97,160.49 293.05,163.67 293.80,165.43 C294.55,167.18 295.27,168.71 296.10,170.04 C296.93,171.36 297.90,172.64 298.80,173.38 C299.70,174.13 300.58,174.48 301.50,174.50 C302.42,174.52 303.38,174.14 304.30,173.49 C305.22,172.84 306.17,171.74 307.00,170.60 C307.83,169.46 308.53,168.20 309.30,166.66 C310.07,165.11 310.50,163.62 311.60,161.35 C312.70,159.07 314.57,155.84 315.90,153.00 C317.23,150.16 318.50,146.87 319.60,144.30 C320.70,141.73 321.50,139.75 322.50,137.60 C323.50,135.45 324.43,133.28 325.60,131.40 C326.77,129.52 328.13,127.83 329.50,126.30 C330.87,124.77 332.33,123.32 333.80,122.20 C335.27,121.08 336.80,120.32 338.30,119.60 C339.80,118.88 341.32,118.65 342.80,117.90 C344.28,117.15 345.60,116.27 347.20,115.10 C348.80,113.93 350.55,112.05 352.40,110.90 C354.25,109.75 356.75,108.65 358.30,108.20 C359.85,107.75 360.17,107.97 361.70,108.20 C363.23,108.43 365.88,109.25 367.50,109.60 C369.12,109.95 369.78,110.33 371.40,110.30 C373.02,110.27 375.27,109.92 377.20,109.40 C379.13,108.88 381.22,108.22 383.00,107.20 C384.78,106.18 386.33,105.33 387.90,103.30 C389.47,101.27 391.03,97.52 392.40,95.00 C393.77,92.48 394.88,90.27 396.10,88.20 C397.32,86.13 398.28,84.33 399.70,82.60 C401.12,80.87 403.18,79.02 404.60,77.80 C406.02,76.58 407.00,76.42 408.20,75.30 C409.40,74.18 410.58,72.40 411.80,71.10 C413.02,69.80 414.28,68.62 415.50,67.50 C416.72,66.38 417.88,65.12 419.10,64.40 C420.32,63.68 421.58,63.60 422.80,63.20 C424.02,62.80 425.20,62.40 426.40,62.00 C427.60,61.60 428.78,61.42 430.00,60.80 C431.22,60.18 432.48,59.32 433.70,58.30 C434.92,57.28 436.25,55.72 437.30,54.70 C438.35,53.68 438.95,52.42 440.00,52.20 C441.05,51.98 442.38,52.50 443.60,53.40 C444.82,54.30 446.18,56.38 447.30,57.60 C448.42,58.82 449.30,60.70 450.30,60.70 C451.30,60.70 452.18,59.53 453.30,57.60 C454.42,55.67 455.78,51.52 457.00,49.10 C458.22,46.68 459.38,44.42 460.60,43.10 C461.82,41.78 463.18,41.62 464.30,41.20 C465.42,40.78 466.30,41.10 467.30,40.60 C468.30,40.10 469.38,39.62 470.30,38.20 C471.22,36.78 471.98,34.12 472.80,32.10 C473.62,30.08 474.40,28.12 475.20,26.10 C476.00,24.08 476.80,22.18 477.60,20.00 C478.40,17.82 479.17,14.70 480.00,13.00 C480.83,11.30 481.68,9.55 482.60,9.80 C483.52,10.05 484.37,12.25 485.50,14.50 C486.63,16.75 488.23,22.88 489.40,23.30 C490.57,23.72 491.48,19.55 492.50,17.00 C493.52,14.45 494.42,10.50 495.50,8.00 C496.58,5.50 497.92,2.83 499.00,2.00 C500.08,1.17 501.00,1.33 502.00,3.00 C503.00,4.67 503.95,8.78 505.00,12.00 C506.05,15.22 507.22,21.05 508.30,22.30 C509.38,23.55 510.42,20.95 511.50,19.50 C512.58,18.05 514.25,14.58 514.80,13.60" stroke="#4040c0" stroke-width="1.35"/>
<path d="M291.60,159.50 C291.97,160.16 293.05,162.28 293.80,163.45 C294.55,164.62 295.27,165.64 296.10,166.52 C296.93,167.41 297.90,168.26 298.80,168.76 C299.70,169.25 300.58,169.49 301.50,169.50 C302.42,169.51 303.38,169.25 304.30,168.81 C305.22,168.37 306.17,167.62 307.00,166.85 C307.83,166.08 308.53,165.22 309.30,164.17 C310.07,163.12 310.68,162.43 311.60,160.56 C312.52,158.70 313.65,155.71 314.80,153.00 C315.95,150.29 317.40,146.87 318.50,144.30 C319.60,141.73 320.40,139.75 321.40,137.60 C322.40,135.45 323.33,133.28 324.50,131.40 C325.67,129.52 327.03,127.83 328.40,126.30 C329.77,124.77 331.23,123.32 332.70,122.20 C334.17,121.08 335.62,120.40 337.20,119.60 C338.78,118.80 340.63,118.23 342.20,117.40 C343.77,116.57 345.00,115.73 346.60,114.60 C348.20,113.47 349.95,111.77 351.80,110.60 C353.65,109.43 356.15,108.17 357.70,107.60 C359.25,107.03 359.57,107.10 361.10,107.20 C362.63,107.30 365.28,107.92 366.90,108.20 C368.52,108.48 369.18,108.88 370.80,108.90 C372.42,108.92 374.67,108.73 376.60,108.30 C378.53,107.87 380.62,107.32 382.40,106.30 C384.18,105.28 385.73,104.33 387.30,102.20 C388.87,100.07 390.43,96.15 391.80,93.50 C393.17,90.85 394.28,88.52 395.50,86.30 C396.72,84.08 397.80,81.82 399.10,80.20 C400.40,78.58 401.98,77.82 403.30,76.60 C404.62,75.38 405.78,74.22 407.00,72.90 C408.22,71.58 409.38,70.12 410.60,68.70 C411.82,67.28 413.08,65.72 414.30,64.40 C415.52,63.08 416.48,62.02 417.90,60.80 C419.32,59.58 421.38,57.68 422.80,57.10 C424.22,56.52 425.20,57.10 426.40,57.30 C427.60,57.50 428.78,58.43 430.00,58.30 C431.22,58.17 432.48,57.40 433.70,56.50 C434.92,55.60 436.25,54.05 437.30,52.90 C438.35,51.75 438.73,49.62 440.00,49.60 C441.27,49.58 443.28,51.87 444.90,52.80 C446.52,53.73 448.30,55.40 449.70,55.20 C451.10,55.00 452.08,53.12 453.30,51.60 C454.52,50.08 455.98,47.32 457.00,46.10 C458.02,44.88 458.38,44.30 459.40,44.30 C460.42,44.30 461.98,45.40 463.10,46.10 C464.22,46.80 465.00,48.50 466.10,48.50 C467.20,48.50 468.48,47.52 469.70,46.10 C470.92,44.68 472.08,42.73 473.40,40.00 C474.72,37.27 476.33,32.70 477.60,29.70 C478.87,26.70 479.92,23.63 481.00,22.00 C482.08,20.37 483.10,19.90 484.10,19.90 C485.10,19.90 486.12,21.03 487.00,22.00 C487.88,22.97 488.48,26.20 489.40,25.70 C490.32,25.20 491.48,21.62 492.50,19.00 C493.52,16.38 494.50,12.33 495.50,10.00 C496.50,7.67 497.42,5.42 498.50,5.00 C499.58,4.58 500.43,6.63 502.00,7.50 C503.57,8.37 506.40,9.95 507.90,10.20 C509.40,10.45 509.85,9.62 511.00,9.00 C512.15,8.38 514.17,6.92 514.80,6.50" stroke="#a49a48" stroke-width="1.35"/>
<path d="M291.60,159.50 C291.97,160.34 293.05,163.03 293.80,164.52 C294.55,166.00 295.27,167.30 296.10,168.42 C296.93,169.54 297.90,170.63 298.80,171.26 C299.70,171.89 300.58,172.19 301.50,172.20 C302.42,172.21 303.38,171.89 304.30,171.34 C305.22,170.78 306.17,169.85 307.00,168.88 C307.83,167.90 308.53,166.83 309.30,165.51 C310.07,164.20 310.63,163.07 311.60,160.99 C312.57,158.90 313.90,155.78 315.10,153.00 C316.30,150.22 317.70,146.87 318.80,144.30 C319.90,141.73 320.70,139.75 321.70,137.60 C322.70,135.45 323.63,133.28 324.80,131.40 C325.97,129.52 327.33,127.83 328.70,126.30 C330.07,124.77 331.53,123.32 333.00,122.20 C334.47,121.08 335.92,120.40 337.50,119.60 C339.08,118.80 340.93,118.23 342.50,117.40 C344.07,116.57 345.30,115.73 346.90,114.60 C348.50,113.47 350.25,111.77 352.10,110.60 C353.95,109.43 356.45,108.17 358.00,107.60 C359.55,107.03 359.87,107.10 361.40,107.20 C362.93,107.30 365.58,107.92 367.20,108.20 C368.82,108.48 369.48,108.88 371.10,108.90 C372.72,108.92 374.97,108.73 376.90,108.30 C378.83,107.87 380.92,107.32 382.70,106.30 C384.48,105.28 386.03,104.33 387.60,102.20 C389.17,100.07 390.73,96.15 392.10,93.50 C393.47,90.85 394.58,88.52 395.80,86.30 C397.02,84.08 398.15,81.82 399.40,80.20 C400.65,78.58 402.03,77.82 403.30,76.60 C404.57,75.38 405.78,74.22 407.00,72.90 C408.22,71.58 409.38,70.12 410.60,68.70 C411.82,67.28 413.08,65.72 414.30,64.40 C415.52,63.08 416.68,62.12 417.90,60.80 C419.12,59.48 420.38,57.72 421.60,56.50 C422.82,55.28 424.00,54.17 425.20,53.50 C426.40,52.83 427.58,52.60 428.80,52.50 C430.02,52.40 431.28,53.03 432.50,52.90 C433.72,52.77 434.85,52.48 436.10,51.70 C437.35,50.92 438.53,48.63 440.00,48.20 C441.47,47.77 443.38,48.85 444.90,49.10 C446.42,49.35 447.70,50.30 449.10,49.70 C450.50,49.10 451.98,47.12 453.30,45.50 C454.62,43.88 455.98,41.22 457.00,40.00 C458.02,38.78 458.38,38.20 459.40,38.20 C460.42,38.20 461.88,39.40 463.10,40.00 C464.32,40.60 465.50,42.10 466.70,41.80 C467.90,41.50 469.18,40.02 470.30,38.20 C471.42,36.38 472.38,33.53 473.40,30.90 C474.42,28.27 475.38,25.22 476.40,22.40 C477.42,19.58 478.47,15.98 479.50,14.00 C480.53,12.02 481.52,10.25 482.60,10.50 C483.68,10.75 484.87,13.58 486.00,15.50 C487.13,17.42 488.32,22.17 489.40,22.00 C490.48,21.83 491.40,17.33 492.50,14.50 C493.60,11.67 494.92,7.25 496.00,5.00 C497.08,2.75 497.83,1.17 499.00,1.00 C500.17,0.83 501.75,2.58 503.00,4.00 C504.25,5.42 505.37,8.38 506.50,9.50 C507.63,10.62 508.77,11.42 509.80,10.70 C510.83,9.98 511.87,6.57 512.70,5.20 C513.53,3.83 514.45,2.95 514.80,2.50" stroke="#3aa0b0" stroke-width="1.35"/>
<path d="M291.60,159.50 C291.97,160.44 293.05,163.48 293.80,165.15 C294.55,166.82 295.27,168.28 296.10,169.55 C296.93,170.81 297.90,172.03 298.80,172.74 C299.70,173.45 300.58,173.78 301.50,173.80 C302.42,173.82 303.38,173.46 304.30,172.83 C305.22,172.21 306.17,171.16 307.00,170.08 C307.83,168.99 308.53,167.78 309.30,166.31 C310.07,164.84 310.58,163.46 311.60,161.24 C312.62,159.02 314.15,155.82 315.40,153.00 C316.65,150.18 318.00,146.87 319.10,144.30 C320.20,141.73 321.00,139.75 322.00,137.60 C323.00,135.45 323.93,133.28 325.10,131.40 C326.27,129.52 327.63,127.83 329.00,126.30 C330.37,124.77 331.83,123.32 333.30,122.20 C334.77,121.08 336.22,120.40 337.80,119.60 C339.38,118.80 341.23,118.23 342.80,117.40 C344.37,116.57 345.60,115.73 347.20,114.60 C348.80,113.47 350.55,111.77 352.40,110.60 C354.25,109.43 356.75,108.17 358.30,107.60 C359.85,107.03 360.17,107.10 361.70,107.20 C363.23,107.30 365.88,107.92 367.50,108.20 C369.12,108.48 369.78,108.88 371.40,108.90 C373.02,108.92 375.27,108.73 377.20,108.30 C379.13,107.87 381.22,107.32 383.00,106.30 C384.78,105.28 386.33,104.33 387.90,102.20 C389.47,100.07 391.03,96.15 392.40,93.50 C393.77,90.85 394.88,88.52 396.10,86.30 C397.32,84.08 398.50,81.82 399.70,80.20 C400.90,78.58 402.08,77.82 403.30,76.60 C404.52,75.38 405.78,74.22 407.00,72.90 C408.22,71.58 409.38,70.12 410.60,68.70 C411.82,67.28 413.08,65.72 414.30,64.40 C415.52,63.08 416.68,61.60 417.90,60.80 C419.12,60.00 420.18,59.90 421.60,59.60 C423.02,59.30 425.00,59.22 426.40,59.00 C427.80,58.78 428.78,58.82 430.00,58.30 C431.22,57.78 432.48,56.98 433.70,55.90 C434.92,54.82 436.25,53.20 437.30,51.80 C438.35,50.40 438.73,48.15 440.00,47.50 C441.27,46.85 443.28,47.73 444.90,47.90 C446.52,48.07 448.18,49.40 449.70,48.50 C451.22,47.60 452.68,44.72 454.00,42.50 C455.32,40.28 456.50,36.73 457.60,35.20 C458.70,33.67 459.58,33.00 460.60,33.30 C461.62,33.60 462.78,35.58 463.70,37.00 C464.62,38.42 465.20,40.28 466.10,41.80 C467.00,43.32 468.08,45.18 469.10,46.10 C470.12,47.02 471.18,47.90 472.20,47.30 C473.22,46.70 474.10,45.03 475.20,42.50 C476.30,39.97 477.58,35.35 478.80,32.10 C480.02,28.85 481.38,25.10 482.50,23.00 C483.62,20.90 484.58,20.42 485.50,19.50 C486.42,18.58 487.08,18.92 488.00,17.50 C488.92,16.08 489.80,13.18 491.00,11.00 C492.20,8.82 493.87,5.90 495.20,4.40 C496.53,2.90 497.53,1.92 499.00,2.00 C500.47,2.08 502.37,3.37 504.00,4.90 C505.63,6.43 507.35,10.57 508.80,11.20 C510.25,11.83 511.70,9.57 512.70,8.70 C513.70,7.83 514.45,6.45 514.80,6.00" stroke="#e04848" stroke-width="1.35"/>
<path d="M291.60,159.50 C291.97,160.22 293.05,162.56 293.80,163.85 C294.55,165.13 295.27,166.25 296.10,167.23 C296.93,168.20 297.90,169.14 298.80,169.68 C299.70,170.23 300.58,170.49 301.50,170.50 C302.42,170.51 303.38,170.23 304.30,169.75 C305.22,169.27 306.17,168.45 307.00,167.60 C307.83,166.75 308.53,165.81 309.30,164.67 C310.07,163.52 310.58,162.67 311.60,160.72 C312.62,158.78 314.15,155.74 315.40,153.00 C316.65,150.26 318.00,146.87 319.10,144.30 C320.20,141.73 321.00,139.75 322.00,137.60 C323.00,135.45 323.93,133.28 325.10,131.40 C326.27,129.52 327.63,127.83 329.00,126.30 C330.37,124.77 331.83,123.32 333.30,122.20 C334.77,121.08 336.22,120.40 337.80,119.60 C339.38,118.80 341.23,118.23 342.80,117.40 C344.37,116.57 345.60,115.73 347.20,114.60 C348.80,113.47 350.55,111.77 352.40,110.60 C354.25,109.43 356.75,108.17 358.30,107.60 C359.85,107.03 360.17,107.10 361.70,107.20 C363.23,107.30 365.88,107.92 367.50,108.20 C369.12,108.48 369.78,108.88 371.40,108.90 C373.02,108.92 375.27,108.73 377.20,108.30 C379.13,107.87 381.22,107.32 383.00,106.30 C384.78,105.28 386.33,104.33 387.90,102.20 C389.47,100.07 391.03,96.15 392.40,93.50 C393.77,90.85 394.88,88.52 396.10,86.30 C397.32,84.08 398.50,81.82 399.70,80.20 C400.90,78.58 402.08,77.82 403.30,76.60 C404.52,75.38 405.78,74.22 407.00,72.90 C408.22,71.58 409.38,70.12 410.60,68.70 C411.82,67.28 413.08,65.72 414.30,64.40 C415.52,63.08 416.90,61.77 417.90,60.80 C418.90,59.83 419.08,59.08 420.30,58.60 C421.52,58.12 423.78,58.45 425.20,57.90 C426.62,57.35 427.68,56.53 428.80,55.30 C429.92,54.07 430.68,52.02 431.90,50.50 C433.12,48.98 434.75,47.23 436.10,46.20 C437.45,45.17 438.53,44.12 440.00,44.30 C441.47,44.48 443.38,46.60 444.90,47.30 C446.42,48.00 447.70,49.42 449.10,48.50 C450.50,47.58 451.98,44.12 453.30,41.80 C454.62,39.48 455.88,36.22 457.00,34.60 C458.12,32.98 459.08,32.10 460.00,32.10 C460.92,32.10 461.68,33.38 462.50,34.60 C463.32,35.82 464.10,37.78 464.90,39.40 C465.70,41.02 466.40,42.98 467.30,44.30 C468.20,45.62 469.18,47.30 470.30,47.30 C471.42,47.30 472.98,46.22 474.00,44.30 C475.02,42.38 475.63,39.10 476.40,35.80 C477.17,32.50 477.87,28.13 478.60,24.50 C479.33,20.87 480.10,16.55 480.80,14.00 C481.50,11.45 482.10,9.53 482.80,9.20 C483.50,8.87 484.22,10.28 485.00,12.00 C485.78,13.72 486.68,17.33 487.50,19.50 C488.32,21.67 488.98,25.42 489.90,25.00 C490.82,24.58 491.90,20.17 493.00,17.00 C494.10,13.83 495.42,8.67 496.50,6.00 C497.58,3.33 498.42,1.17 499.50,1.00 C500.58,0.83 501.67,3.18 503.00,5.00 C504.33,6.82 506.17,10.48 507.50,11.90 C508.83,13.32 509.78,13.05 511.00,13.50 C512.22,13.95 514.17,14.42 514.80,14.60" stroke="#e040e8" stroke-width="1.35"/>
<path d="M315.40,153.00 C316.02,151.55 318.00,146.87 319.10,144.30 C320.20,141.73 321.00,139.75 322.00,137.60 C323.00,135.45 323.93,133.28 325.10,131.40 C326.27,129.52 327.63,127.83 329.00,126.30 C330.37,124.77 331.83,123.32 333.30,122.20 C334.77,121.08 336.22,120.40 337.80,119.60 C339.38,118.80 341.97,117.77 342.80,117.40" stroke="#5c6a5c" stroke-width="1.6" stroke-linecap="round" opacity="0.85"/>
<path d="M342.80,117.40 C343.53,116.93 345.60,115.73 347.20,114.60 C348.80,113.47 350.55,111.77 352.40,110.60 C354.25,109.43 356.75,108.17 358.30,107.60 C359.85,107.03 360.17,107.10 361.70,107.20 C363.23,107.30 365.88,107.92 367.50,108.20 C369.12,108.48 369.78,108.88 371.40,108.90 C373.02,108.92 375.27,108.73 377.20,108.30 C379.13,107.87 381.22,107.32 383.00,106.30 C384.78,105.28 386.33,104.33 387.90,102.20 C389.47,100.07 391.65,94.95 392.40,93.50" stroke="#5a3a98" stroke-width="1.6" stroke-linecap="round" opacity="0.8"/>
<path d="M291.60,159.50 C291.97,160.49 293.05,163.67 293.80,165.43 C294.55,167.18 295.27,168.71 296.10,170.04 C296.93,171.36 297.90,172.64 298.80,173.38 C299.70,174.13 300.58,174.48 301.50,174.50 C302.42,174.52 303.38,174.14 304.30,173.49 C305.22,172.84 306.17,171.74 307.00,170.60 C307.83,169.46 308.53,168.20 309.30,166.66 C310.07,165.11 311.22,162.23 311.60,161.35" stroke="#3838a8" stroke-width="1.5"/>
</g>
<rect x="294.2" y="164.4" width="17.4" height="11.2" fill="none" stroke="#a8d8a0" stroke-width="1"/>
<path d="M291.6,158.7 L313.2,158.7 L313.2,177.3" fill="none" stroke="#e03030" stroke-width="1.2" stroke-dasharray="3,1.6"/>
<path d="M315.5,164.4 L404.6,131.0 L404.6,128.0 L413.2,132.6 L409.1,140.8 L407.4,137.3 L317.1,171.5 Z" fill="#a4a4a4" stroke="#8c8c8c" stroke-width="0.6" stroke-linejoin="round"/>
<rect x="435.4" y="70.6" width="70.60000000000002" height="90.70000000000002" fill="#fff" stroke="#777" stroke-width="0.7"/>
<g clip-path="url(#clipBi)" fill="none">
<path d="M430.00,52.81 L430.70,57.00 L431.40,61.09 L432.10,65.08 L432.80,68.96 L433.50,72.75 L434.20,76.44 L434.90,80.03 L435.60,83.53 L436.30,86.92 L437.00,90.22 L437.70,93.43 L438.40,96.54 L439.10,99.56 L439.80,102.49 L440.50,105.32 L441.20,108.07 L441.90,110.72 L442.60,113.29 L443.30,115.76 L444.00,118.15 L444.70,120.46 L445.40,122.67 L446.10,124.81 L446.80,126.86 L447.50,128.82 L448.20,130.71 L448.90,132.51 L449.60,134.24 L450.30,135.88 L451.00,137.45 L451.70,138.94 L452.40,140.36 L453.10,141.70 L453.80,142.97 L454.50,144.17 L455.20,145.29 L455.90,146.35 L456.60,147.34 L457.30,148.26 L458.00,149.12 L458.70,149.91 L459.40,150.64 L460.10,151.31 L460.80,151.92 L461.50,152.47 L462.20,152.96 L462.90,153.40 L463.60,153.79 L464.30,154.13 L465.00,154.42 L465.70,154.66 L466.40,154.86 L467.10,155.01 L467.80,155.13 L468.50,155.22 L469.20,155.27 L469.90,155.29 L470.60,155.30 L471.30,155.29 L472.00,155.27 L472.70,155.22 L473.40,155.13 L474.10,155.01 L474.80,154.86 L475.50,154.66 L476.20,154.42 L476.90,154.13 L477.60,153.79 L478.30,153.40 L479.00,152.96 L479.70,152.47 L480.40,151.92 L481.10,151.31 L481.80,150.64 L482.50,149.91 L483.20,149.12 L483.90,148.26 L484.60,147.34 L485.30,146.35 L486.00,145.29 L486.70,144.17 L487.40,142.97 L488.10,141.70 L488.80,140.36 L489.50,138.94 L490.20,137.45 L490.90,135.88 L491.60,134.24 L492.30,132.51 L493.00,130.71 L493.70,128.82 L494.40,126.86 L495.10,124.81 L495.80,122.67 L496.50,120.46 L497.20,118.15 L497.90,115.76 L498.60,113.29 L499.30,110.72 L500.00,108.07 L500.70,105.32 L501.40,102.49 L502.10,99.56 L502.80,96.54 L503.50,93.43 L504.20,90.22 L504.90,86.92 L505.60,83.53 L506.30,80.03 L507.00,76.44 L507.70,72.75 L508.40,68.96 L509.10,65.08 L509.80,61.09 L510.50,57.00" stroke="#d070a8" stroke-width="1.0"/>
<path d="M430.00,21.07 L430.70,26.55 L431.40,31.89 L432.10,37.11 L432.80,42.19 L433.50,47.14 L434.20,51.97 L434.90,56.66 L435.60,61.23 L436.30,65.68 L437.00,69.99 L437.70,74.19 L438.40,78.26 L439.10,82.21 L439.80,86.03 L440.50,89.74 L441.20,93.33 L441.90,96.80 L442.60,100.15 L443.30,103.39 L444.00,106.52 L444.70,109.53 L445.40,112.43 L446.10,115.22 L446.80,117.90 L447.50,120.47 L448.20,122.94 L448.90,125.30 L449.60,127.55 L450.30,129.71 L451.00,131.76 L451.70,133.71 L452.40,135.56 L453.10,137.32 L453.80,138.98 L454.50,140.54 L455.20,142.01 L455.90,143.40 L456.60,144.69 L457.30,145.90 L458.00,147.02 L458.70,148.05 L459.40,149.01 L460.10,149.88 L460.80,150.68 L461.50,151.40 L462.20,152.04 L462.90,152.62 L463.60,153.13 L464.30,153.57 L465.00,153.95 L465.70,154.26 L466.40,154.52 L467.10,154.73 L467.80,154.88 L468.50,154.99 L469.20,155.06 L469.90,155.09 L470.60,155.10 L471.30,155.09 L472.00,155.06 L472.70,154.99 L473.40,154.88 L474.10,154.73 L474.80,154.52 L475.50,154.26 L476.20,153.95 L476.90,153.57 L477.60,153.13 L478.30,152.62 L479.00,152.04 L479.70,151.40 L480.40,150.68 L481.10,149.88 L481.80,149.01 L482.50,148.05 L483.20,147.02 L483.90,145.90 L484.60,144.69 L485.30,143.40 L486.00,142.01 L486.70,140.54 L487.40,138.98 L488.10,137.32 L488.80,135.56 L489.50,133.71 L490.20,131.76 L490.90,129.71 L491.60,127.55 L492.30,125.30 L493.00,122.94 L493.70,120.47 L494.40,117.90 L495.10,115.22 L495.80,112.43 L496.50,109.53 L497.20,106.52 L497.90,103.39 L498.60,100.15 L499.30,96.80 L500.00,93.33 L500.70,89.74 L501.40,86.03 L502.10,82.21 L502.80,78.26 L503.50,74.19 L504.20,69.99 L504.90,65.68 L505.60,61.23 L506.30,56.66 L507.00,51.97 L507.70,47.14 L508.40,42.19 L509.10,37.11 L509.80,31.89 L510.50,26.55" stroke="#5a5ac0" stroke-width="1.0"/>
<path d="M430.00,-9.74 L430.70,-3.47 L431.40,2.64 L432.10,8.61 L432.80,14.42 L433.50,20.09 L434.20,25.61 L434.90,30.98 L435.60,36.21 L436.30,41.29 L437.00,46.23 L437.70,51.03 L438.40,55.69 L439.10,60.20 L439.80,64.58 L440.50,68.82 L441.20,72.93 L441.90,76.90 L442.60,80.74 L443.30,84.44 L444.00,88.02 L444.70,91.47 L445.40,94.78 L446.10,97.98 L446.80,101.04 L447.50,103.98 L448.20,106.80 L448.90,109.50 L449.60,112.08 L450.30,114.55 L451.00,116.89 L451.70,119.13 L452.40,121.24 L453.10,123.25 L453.80,125.15 L454.50,126.94 L455.20,128.63 L455.90,130.21 L456.60,131.69 L457.30,133.07 L458.00,134.35 L458.70,135.54 L459.40,136.63 L460.10,137.63 L460.80,138.54 L461.50,139.36 L462.20,140.10 L462.90,140.76 L463.60,141.34 L464.30,141.85 L465.00,142.28 L465.70,142.64 L466.40,142.94 L467.10,143.17 L467.80,143.35 L468.50,143.47 L469.20,143.55 L469.90,143.59 L470.60,143.60 L471.30,143.59 L472.00,143.55 L472.70,143.47 L473.40,143.35 L474.10,143.17 L474.80,142.94 L475.50,142.64 L476.20,142.28 L476.90,141.85 L477.60,141.34 L478.30,140.76 L479.00,140.10 L479.70,139.36 L480.40,138.54 L481.10,137.63 L481.80,136.63 L482.50,135.54 L483.20,134.35 L483.90,133.07 L484.60,131.69 L485.30,130.21 L486.00,128.63 L486.70,126.94 L487.40,125.15 L488.10,123.25 L488.80,121.24 L489.50,119.13 L490.20,116.89 L490.90,114.55 L491.60,112.08 L492.30,109.50 L493.00,106.80 L493.70,103.98 L494.40,101.04 L495.10,97.98 L495.80,94.78 L496.50,91.47 L497.20,88.02 L497.90,84.44 L498.60,80.74 L499.30,76.90 L500.00,72.93 L500.70,68.82 L501.40,64.58 L502.10,60.20 L502.80,55.69 L503.50,51.03 L504.20,46.23 L504.90,41.29 L505.60,36.21 L506.30,30.98 L507.00,25.61 L507.70,20.09 L508.40,14.42 L509.10,8.61 L509.80,2.64 L510.50,-3.47" stroke="#4aa8bc" stroke-width="1.0"/>
<path d="M430.00,-16.51 L430.70,-10.68 L431.40,-4.99 L432.10,0.56 L432.80,5.96 L433.50,11.23 L434.20,16.37 L434.90,21.36 L435.60,26.23 L436.30,30.95 L437.00,35.55 L437.70,40.01 L438.40,44.34 L439.10,48.54 L439.80,52.61 L440.50,56.56 L441.20,60.38 L441.90,64.07 L442.60,67.64 L443.30,71.08 L444.00,74.41 L444.70,77.61 L445.40,80.70 L446.10,83.67 L446.80,86.52 L447.50,89.26 L448.20,91.88 L448.90,94.39 L449.60,96.79 L450.30,99.08 L451.00,101.26 L451.70,103.34 L452.40,105.31 L453.10,107.18 L453.80,108.94 L454.50,110.61 L455.20,112.18 L455.90,113.65 L456.60,115.02 L457.30,116.31 L458.00,117.50 L458.70,118.60 L459.40,119.62 L460.10,120.55 L460.80,121.39 L461.50,122.16 L462.20,122.85 L462.90,123.46 L463.60,124.00 L464.30,124.47 L465.00,124.87 L465.70,125.21 L466.40,125.48 L467.10,125.70 L467.80,125.87 L468.50,125.98 L469.20,126.06 L469.90,126.09 L470.60,126.10 L471.30,126.09 L472.00,126.06 L472.70,125.98 L473.40,125.87 L474.10,125.70 L474.80,125.48 L475.50,125.21 L476.20,124.87 L476.90,124.47 L477.60,124.00 L478.30,123.46 L479.00,122.85 L479.70,122.16 L480.40,121.39 L481.10,120.55 L481.80,119.62 L482.50,118.60 L483.20,117.50 L483.90,116.31 L484.60,115.02 L485.30,113.65 L486.00,112.18 L486.70,110.61 L487.40,108.94 L488.10,107.18 L488.80,105.31 L489.50,103.34 L490.20,101.26 L490.90,99.08 L491.60,96.79 L492.30,94.39 L493.00,91.88 L493.70,89.26 L494.40,86.52 L495.10,83.67 L495.80,80.70 L496.50,77.61 L497.20,74.41 L497.90,71.08 L498.60,67.64 L499.30,64.07 L500.00,60.38 L500.70,56.56 L501.40,52.61 L502.10,48.54 L502.80,44.34 L503.50,40.01 L504.20,35.55 L504.90,30.95 L505.60,26.23 L506.30,21.36 L507.00,16.37 L507.70,11.23 L508.40,5.96 L509.10,0.56 L509.80,-4.99 L510.50,-10.68" stroke="#d068d8" stroke-width="1.0"/>
<path d="M430.00,-23.57 L430.70,-17.66 L431.40,-11.88 L432.10,-6.25 L432.80,-0.76 L433.50,4.59 L434.20,9.80 L434.90,14.88 L435.60,19.81 L436.30,24.61 L437.00,29.27 L437.70,33.80 L438.40,38.20 L439.10,42.46 L439.80,46.60 L440.50,50.60 L441.20,54.48 L441.90,58.23 L442.60,61.85 L443.30,65.35 L444.00,68.73 L444.70,71.98 L445.40,75.11 L446.10,78.12 L446.80,81.02 L447.50,83.80 L448.20,86.46 L448.90,89.01 L449.60,91.45 L450.30,93.77 L451.00,95.99 L451.70,98.09 L452.40,100.09 L453.10,101.99 L453.80,103.78 L454.50,105.47 L455.20,107.07 L455.90,108.56 L456.60,109.96 L457.30,111.26 L458.00,112.47 L458.70,113.59 L459.40,114.62 L460.10,115.56 L460.80,116.42 L461.50,117.20 L462.20,117.90 L462.90,118.52 L463.60,119.07 L464.30,119.55 L465.00,119.95 L465.70,120.29 L466.40,120.57 L467.10,120.80 L467.80,120.96 L468.50,121.08 L469.20,121.16 L469.90,121.19 L470.60,121.20 L471.30,121.19 L472.00,121.16 L472.70,121.08 L473.40,120.96 L474.10,120.80 L474.80,120.57 L475.50,120.29 L476.20,119.95 L476.90,119.55 L477.60,119.07 L478.30,118.52 L479.00,117.90 L479.70,117.20 L480.40,116.42 L481.10,115.56 L481.80,114.62 L482.50,113.59 L483.20,112.47 L483.90,111.26 L484.60,109.96 L485.30,108.56 L486.00,107.07 L486.70,105.47 L487.40,103.78 L488.10,101.99 L488.80,100.09 L489.50,98.09 L490.20,95.99 L490.90,93.77 L491.60,91.45 L492.30,89.01 L493.00,86.46 L493.70,83.80 L494.40,81.02 L495.10,78.12 L495.80,75.11 L496.50,71.98 L497.20,68.73 L497.90,65.35 L498.60,61.85 L499.30,58.23 L500.00,54.48 L500.70,50.60 L501.40,46.60 L502.10,42.46 L502.80,38.20 L503.50,33.80 L504.20,29.27 L504.90,24.61 L505.60,19.81 L506.30,14.88 L507.00,9.80 L507.70,4.59 L508.40,-0.76 L509.10,-6.25 L509.80,-11.88 L510.50,-17.66" stroke="#b8a870" stroke-width="1.0"/>
</g>
<line x1="435.4" y1="82.50" x2="436.59999999999997" y2="82.50" stroke="#777" stroke-width="0.5"/>
<text x="432.6" y="83.9" font-size="3.8" text-anchor="end" fill="#555" font-weight="normal" >-4</text>
<line x1="435.4" y1="99.83" x2="436.59999999999997" y2="99.83" stroke="#777" stroke-width="0.5"/>
<text x="432.6" y="101.23" font-size="3.8" text-anchor="end" fill="#555" font-weight="normal" >-5</text>
<line x1="435.4" y1="117.16" x2="436.59999999999997" y2="117.16" stroke="#777" stroke-width="0.5"/>
<text x="432.6" y="118.56" font-size="3.8" text-anchor="end" fill="#555" font-weight="normal" >-6</text>
<line x1="435.4" y1="134.49" x2="436.59999999999997" y2="134.49" stroke="#777" stroke-width="0.5"/>
<text x="432.6" y="135.89" font-size="3.8" text-anchor="end" fill="#555" font-weight="normal" >-7</text>
<line x1="435.4" y1="151.82" x2="436.59999999999997" y2="151.82" stroke="#777" stroke-width="0.5"/>
<text x="432.6" y="153.22" font-size="3.8" text-anchor="end" fill="#555" font-weight="normal" >-8</text>
<line x1="452.9" y1="161.3" x2="452.9" y2="160.10000000000002" stroke="#777" stroke-width="0.5"/>
<text x="452.9" y="165.8" font-size="3.8" text-anchor="middle" fill="#555" font-weight="normal" >0.12</text>
<line x1="480.5" y1="161.3" x2="480.5" y2="160.10000000000002" stroke="#777" stroke-width="0.5"/>
<text x="480.5" y="165.8" font-size="3.8" text-anchor="middle" fill="#555" font-weight="normal" >0.14</text>
<text x="471" y="171.8" font-size="4.2" text-anchor="middle" fill="#555" font-weight="normal" >Frequency(THz)</text>
<text transform="translate(425.6,114.2) rotate(-90)" font-size="3.95" text-anchor="middle" fill="#555">Absorption coefficient（cm<tspan font-size="2.6" dy="-1.5">-1</tspan><tspan dy="1.5">）</tspan></text>
<rect x="291.5" y="4.0" width="223.29999999999995" height="174.0" fill="none" stroke="#111" stroke-width="1.5"/>
<line x1="323.50" y1="178.0" x2="323.50" y2="175.0" stroke="#111" stroke-width="1"/>
<line x1="323.50" y1="4.0" x2="323.50" y2="7.0" stroke="#111" stroke-width="1"/>
<line x1="355.50" y1="178.0" x2="355.50" y2="176.2" stroke="#111" stroke-width="1"/>
<line x1="355.50" y1="4.0" x2="355.50" y2="5.8" stroke="#111" stroke-width="1"/>
<line x1="387.50" y1="178.0" x2="387.50" y2="175.0" stroke="#111" stroke-width="1"/>
<line x1="387.50" y1="4.0" x2="387.50" y2="7.0" stroke="#111" stroke-width="1"/>
<line x1="419.50" y1="178.0" x2="419.50" y2="176.2" stroke="#111" stroke-width="1"/>
<line x1="419.50" y1="4.0" x2="419.50" y2="5.8" stroke="#111" stroke-width="1"/>
<line x1="451.50" y1="178.0" x2="451.50" y2="175.0" stroke="#111" stroke-width="1"/>
<line x1="451.50" y1="4.0" x2="451.50" y2="7.0" stroke="#111" stroke-width="1"/>
<line x1="483.50" y1="178.0" x2="483.50" y2="176.2" stroke="#111" stroke-width="1"/>
<line x1="483.50" y1="4.0" x2="483.50" y2="5.8" stroke="#111" stroke-width="1"/>
<line x1="291.5" y1="158.75" x2="294.5" y2="158.75" stroke="#111" stroke-width="1"/>
<line x1="514.8" y1="158.75" x2="511.79999999999995" y2="158.75" stroke="#111" stroke-width="1"/>
<line x1="291.5" y1="139.38" x2="293.3" y2="139.38" stroke="#111" stroke-width="1"/>
<line x1="514.8" y1="139.38" x2="513.0" y2="139.38" stroke="#111" stroke-width="1"/>
<line x1="291.5" y1="120.00" x2="294.5" y2="120.00" stroke="#111" stroke-width="1"/>
<line x1="514.8" y1="120.00" x2="511.79999999999995" y2="120.00" stroke="#111" stroke-width="1"/>
<line x1="291.5" y1="100.62" x2="293.3" y2="100.62" stroke="#111" stroke-width="1"/>
<line x1="514.8" y1="100.62" x2="513.0" y2="100.62" stroke="#111" stroke-width="1"/>
<line x1="291.5" y1="81.25" x2="294.5" y2="81.25" stroke="#111" stroke-width="1"/>
<line x1="514.8" y1="81.25" x2="511.79999999999995" y2="81.25" stroke="#111" stroke-width="1"/>
<line x1="291.5" y1="61.88" x2="293.3" y2="61.88" stroke="#111" stroke-width="1"/>
<line x1="514.8" y1="61.88" x2="513.0" y2="61.88" stroke="#111" stroke-width="1"/>
<line x1="291.5" y1="42.50" x2="294.5" y2="42.50" stroke="#111" stroke-width="1"/>
<line x1="514.8" y1="42.50" x2="511.79999999999995" y2="42.50" stroke="#111" stroke-width="1"/>
<line x1="291.5" y1="23.12" x2="293.3" y2="23.12" stroke="#111" stroke-width="1"/>
<line x1="514.8" y1="23.12" x2="513.0" y2="23.12" stroke="#111" stroke-width="1"/>
<text x="288.2" y="5.95" font-size="6.2" text-anchor="end" fill="#222" font-weight="normal" stroke="#222" stroke-width="0.12" >80</text>
<text x="288.2" y="44.7" font-size="6.2" text-anchor="end" fill="#222" font-weight="normal" stroke="#222" stroke-width="0.12" >60</text>
<text x="288.2" y="83.45" font-size="6.2" text-anchor="end" fill="#222" font-weight="normal" stroke="#222" stroke-width="0.12" >40</text>
<text x="288.2" y="122.2" font-size="6.2" text-anchor="end" fill="#222" font-weight="normal" stroke="#222" stroke-width="0.12" >20</text>
<text x="288.2" y="160.95" font-size="6.2" text-anchor="end" fill="#222" font-weight="normal" stroke="#222" stroke-width="0.12" >0</text>
<text x="323.5" y="187.0" font-size="6.6" text-anchor="middle" fill="#222" font-weight="normal" stroke="#222" stroke-width="0.12" >0.2</text>
<text x="387.5" y="187.0" font-size="6.6" text-anchor="middle" fill="#222" font-weight="normal" stroke="#222" stroke-width="0.12" >0.4</text>
<text x="451.5" y="187.0" font-size="6.6" text-anchor="middle" fill="#222" font-weight="normal" stroke="#222" stroke-width="0.12" >0.6</text>
<text x="515.5" y="187.0" font-size="6.6" text-anchor="middle" fill="#222" font-weight="normal" stroke="#222" stroke-width="0.12" >0.8</text>
<text x="302.8" y="186.8" font-size="6.4" text-anchor="start" fill="#d85a6a" font-weight="normal" font-family="'Liberation Serif', serif">0.168</text>
<text x="403.6" y="199.9" font-size="8.7" text-anchor="middle" fill="#222" font-weight="normal" textLength="57.1" lengthAdjust="spacingAndGlyphs" stroke="#222" stroke-width="0.15" >Frequency(THz)</text>
<g transform="translate(271.7,141.2) rotate(-90)" font-size="8.2" fill="#222" stroke="#222" stroke-width="0.1"><text x="0" y="0" textLength="78.6" lengthAdjust="spacingAndGlyphs">Absorption coefficient</text><text x="79.3" y="0">（</text><text x="87.8" y="0" textLength="10.9" lengthAdjust="spacingAndGlyphs">cm</text><text x="99.0" y="-3.3" font-size="5.0">-1</text><text x="104.6" y="0">）</text></g>
<text x="262.9" y="12.3" font-size="12.6" text-anchor="start" fill="#111" font-weight="bold" letter-spacing="0.6">b)</text>
<line x1="303.8" y1="15.9" x2="325.0" y2="15.9" stroke="#c09090" stroke-width="1.6"/>
<text x="327.3" y="19.4" font-size="10.0" text-anchor="start" fill="#222" font-weight="normal" textLength="11.6" lengthAdjust="spacingAndGlyphs" stroke="#222" stroke-width="0.15" >0V</text>
<line x1="303.8" y1="28.2" x2="325.0" y2="28.2" stroke="#6868b4" stroke-width="1.6"/>
<text x="327.3" y="31.7" font-size="10.0" text-anchor="start" fill="#222" font-weight="normal" textLength="26.9" lengthAdjust="spacingAndGlyphs" stroke="#222" stroke-width="0.15" >1000V</text>
<line x1="303.8" y1="40.3" x2="325.0" y2="40.3" stroke="#80a8b0" stroke-width="1.6"/>
<text x="327.3" y="43.8" font-size="10.0" text-anchor="start" fill="#222" font-weight="normal" textLength="26.9" lengthAdjust="spacingAndGlyphs" stroke="#222" stroke-width="0.15" >2000V</text>
<line x1="303.8" y1="52.5" x2="325.0" y2="52.5" stroke="#e868f0" stroke-width="1.6"/>
<text x="327.3" y="56.0" font-size="10.0" text-anchor="start" fill="#222" font-weight="normal" textLength="26.9" lengthAdjust="spacingAndGlyphs" stroke="#222" stroke-width="0.15" >3000V</text>
<line x1="303.8" y1="64.7" x2="325.0" y2="64.7" stroke="#b4b490" stroke-width="1.6"/>
<text x="327.3" y="68.2" font-size="10.0" text-anchor="start" fill="#222" font-weight="normal" textLength="26.9" lengthAdjust="spacingAndGlyphs" stroke="#222" stroke-width="0.15" >4000V</text>
<g clip-path="url(#clipC)" fill="none" stroke-linejoin="round">
<path d="M173.30,365.20 C173.92,365.42 175.78,367.70 177.00,366.50 C178.22,365.30 179.68,361.25 180.60,358.00 C181.52,354.75 181.88,351.05 182.50,347.00 C183.12,342.95 183.68,339.87 184.30,333.70 C184.92,327.53 185.40,319.70 186.20,310.00 C187.00,300.30 188.00,283.87 189.10,275.50 C190.20,267.13 191.58,263.43 192.80,259.80 C194.02,256.17 195.20,255.73 196.40,253.70 C197.60,251.67 198.87,250.43 200.00,247.60 C201.13,244.77 202.18,239.73 203.20,236.70 C204.22,233.67 205.22,229.80 206.10,229.40 C206.98,229.00 207.68,230.25 208.50,234.30 C209.32,238.35 210.18,245.62 211.00,253.70 C211.82,261.78 212.60,274.72 213.40,282.80 C214.20,290.88 214.98,296.15 215.80,302.20 C216.62,308.25 217.28,313.05 218.30,319.10 C219.32,325.15 220.50,334.13 221.90,338.50 C223.30,342.87 224.88,344.48 226.70,345.30 C228.52,346.12 230.97,344.25 232.80,343.40 C234.63,342.55 235.88,340.60 237.70,340.20 C239.52,339.80 241.82,340.98 243.70,341.00 C245.58,341.02 247.70,340.27 249.00,340.30 C250.30,340.33 250.73,340.48 251.50,341.20 C252.27,341.92 252.63,342.62 253.60,344.60 C254.57,346.58 256.20,350.67 257.30,353.10 C258.40,355.53 259.20,359.00 260.20,359.20 C261.20,359.40 262.17,356.73 263.30,354.30 C264.43,351.87 265.58,347.02 267.00,344.60 C268.42,342.18 269.37,340.32 271.80,339.80 C274.23,339.28 277.95,340.82 281.60,341.50 C285.25,342.18 290.63,343.18 293.70,343.90 C296.77,344.62 297.33,345.20 300.00,345.80 C302.67,346.40 307.53,346.88 309.70,347.50 C311.87,348.12 311.98,348.57 313.00,349.50 C314.02,350.43 314.73,351.08 315.80,353.10 C316.87,355.12 317.98,359.08 319.40,361.60 C320.82,364.12 322.68,367.80 324.30,368.20 C325.92,368.60 327.48,366.32 329.10,364.00 C330.72,361.68 332.18,356.52 334.00,354.30 C335.82,352.08 337.98,350.90 340.00,350.70 C342.02,350.50 344.07,351.28 346.10,353.10 C348.13,354.92 350.38,359.08 352.20,361.60 C354.02,364.12 355.38,368.00 357.00,368.20 C358.62,368.40 360.28,365.00 361.90,362.80 C363.52,360.60 364.88,356.42 366.70,355.00 C368.52,353.58 370.52,354.42 372.80,354.30 C375.08,354.18 379.13,354.30 380.40,354.30" stroke="#e0283c" stroke-width="1.5"/>
<path d="M173.30,328.30 C174.08,328.35 176.17,328.45 178.00,328.60 C179.83,328.75 182.30,329.37 184.30,329.20 C186.30,329.03 187.98,328.15 190.00,327.60 C192.02,327.05 194.57,326.33 196.40,325.90 C198.23,325.47 199.58,325.40 201.00,325.00 C202.42,324.60 203.65,324.67 204.90,323.50 C206.15,322.33 207.48,319.92 208.50,318.00 C209.52,316.08 209.98,314.00 211.00,312.00 C212.02,310.00 213.68,306.92 214.60,306.00 C215.52,305.08 215.88,305.93 216.50,306.50 C217.12,307.07 217.47,307.73 218.30,309.40 C219.13,311.07 220.30,314.07 221.50,316.50 C222.70,318.93 224.25,322.00 225.50,324.00 C226.75,326.00 227.78,327.28 229.00,328.50 C230.22,329.72 231.15,330.12 232.80,331.30 C234.45,332.48 237.45,335.48 238.90,335.60 C240.35,335.72 240.70,333.53 241.50,332.00 C242.30,330.47 242.95,328.07 243.70,326.40 C244.45,324.73 245.18,322.93 246.00,322.00 C246.82,321.07 247.68,320.72 248.60,320.80 C249.52,320.88 250.48,321.77 251.50,322.50 C252.52,323.23 253.13,323.73 254.70,325.20 C256.27,326.67 258.85,330.00 260.90,331.30 C262.95,332.60 265.32,332.50 267.00,333.00 C268.68,333.50 269.58,333.78 271.00,334.30 C272.42,334.82 273.73,336.20 275.50,336.10 C277.27,336.00 279.58,334.58 281.60,333.70 C283.62,332.82 285.58,330.80 287.60,330.80 C289.62,330.80 291.47,332.20 293.70,333.70 C295.93,335.20 298.73,338.27 301.00,339.80 C303.27,341.33 305.45,342.30 307.30,342.90 C309.15,343.50 310.65,343.05 312.10,343.40 C313.55,343.75 314.78,344.18 316.00,345.00 C317.22,345.82 318.40,348.05 319.40,348.30 C320.40,348.55 321.18,347.52 322.00,346.50 C322.82,345.48 322.92,343.53 324.30,342.20 C325.68,340.87 327.88,338.50 330.30,338.50 C332.72,338.50 335.77,340.78 338.80,342.20 C341.83,343.62 345.25,345.50 348.50,347.00 C351.75,348.50 355.67,351.20 358.30,351.20 C360.93,351.20 362.28,348.62 364.30,347.00 C366.32,345.38 368.58,342.18 370.40,341.50 C372.22,340.82 373.53,342.27 375.20,342.90 C376.87,343.53 379.53,344.90 380.40,345.30" stroke="#3a3a3a" stroke-width="1.5"/>
</g>
<rect x="167.0" y="211.3" width="213.39999999999998" height="177.2" fill="none" stroke="#111" stroke-width="1.5"/>
<line x1="193.70" y1="388.5" x2="193.70" y2="386.7" stroke="#111" stroke-width="1"/>
<line x1="193.70" y1="211.3" x2="193.70" y2="213.10000000000002" stroke="#111" stroke-width="1"/>
<line x1="220.40" y1="388.5" x2="220.40" y2="385.5" stroke="#111" stroke-width="1"/>
<line x1="220.40" y1="211.3" x2="220.40" y2="214.3" stroke="#111" stroke-width="1"/>
<line x1="247.10" y1="388.5" x2="247.10" y2="386.7" stroke="#111" stroke-width="1"/>
<line x1="247.10" y1="211.3" x2="247.10" y2="213.10000000000002" stroke="#111" stroke-width="1"/>
<line x1="273.80" y1="388.5" x2="273.80" y2="385.5" stroke="#111" stroke-width="1"/>
<line x1="273.80" y1="211.3" x2="273.80" y2="214.3" stroke="#111" stroke-width="1"/>
<line x1="300.50" y1="388.5" x2="300.50" y2="386.7" stroke="#111" stroke-width="1"/>
<line x1="300.50" y1="211.3" x2="300.50" y2="213.10000000000002" stroke="#111" stroke-width="1"/>
<line x1="327.20" y1="388.5" x2="327.20" y2="385.5" stroke="#111" stroke-width="1"/>
<line x1="327.20" y1="211.3" x2="327.20" y2="214.3" stroke="#111" stroke-width="1"/>
<line x1="353.90" y1="388.5" x2="353.90" y2="386.7" stroke="#111" stroke-width="1"/>
<line x1="353.90" y1="211.3" x2="353.90" y2="213.10000000000002" stroke="#111" stroke-width="1"/>
<line x1="167.0" y1="231.00" x2="168.8" y2="231.00" stroke="#111" stroke-width="1"/>
<line x1="380.4" y1="231.00" x2="378.59999999999997" y2="231.00" stroke="#111" stroke-width="1"/>
<line x1="167.0" y1="250.70" x2="170.0" y2="250.70" stroke="#111" stroke-width="1"/>
<line x1="380.4" y1="250.70" x2="377.4" y2="250.70" stroke="#111" stroke-width="1"/>
<line x1="167.0" y1="270.40" x2="168.8" y2="270.40" stroke="#111" stroke-width="1"/>
<line x1="380.4" y1="270.40" x2="378.59999999999997" y2="270.40" stroke="#111" stroke-width="1"/>
<line x1="167.0" y1="290.10" x2="170.0" y2="290.10" stroke="#111" stroke-width="1"/>
<line x1="380.4" y1="290.10" x2="377.4" y2="290.10" stroke="#111" stroke-width="1"/>
<line x1="167.0" y1="309.80" x2="168.8" y2="309.80" stroke="#111" stroke-width="1"/>
<line x1="380.4" y1="309.80" x2="378.59999999999997" y2="309.80" stroke="#111" stroke-width="1"/>
<line x1="167.0" y1="329.50" x2="170.0" y2="329.50" stroke="#111" stroke-width="1"/>
<line x1="380.4" y1="329.50" x2="377.4" y2="329.50" stroke="#111" stroke-width="1"/>
<line x1="167.0" y1="349.20" x2="168.8" y2="349.20" stroke="#111" stroke-width="1"/>
<line x1="380.4" y1="349.20" x2="378.59999999999997" y2="349.20" stroke="#111" stroke-width="1"/>
<line x1="167.0" y1="368.90" x2="170.0" y2="368.90" stroke="#111" stroke-width="1"/>
<line x1="380.4" y1="368.90" x2="377.4" y2="368.90" stroke="#111" stroke-width="1"/>
<text x="163.4" y="214.3" font-size="6.9" text-anchor="end" fill="#222" font-weight="normal" textLength="13.2" lengthAdjust="spacingAndGlyphs" stroke="#222" stroke-width="0.12" >1.70</text>
<text x="163.4" y="253.7" font-size="6.9" text-anchor="end" fill="#222" font-weight="normal" textLength="13.2" lengthAdjust="spacingAndGlyphs" stroke="#222" stroke-width="0.12" >1.65</text>
<text x="163.4" y="293.1" font-size="6.9" text-anchor="end" fill="#222" font-weight="normal" textLength="13.2" lengthAdjust="spacingAndGlyphs" stroke="#222" stroke-width="0.12" >1.60</text>
<text x="163.4" y="332.5" font-size="6.9" text-anchor="end" fill="#222" font-weight="normal" textLength="13.2" lengthAdjust="spacingAndGlyphs" stroke="#222" stroke-width="0.12" >1.55</text>
<text x="163.4" y="371.9" font-size="6.9" text-anchor="end" fill="#222" font-weight="normal" textLength="13.2" lengthAdjust="spacingAndGlyphs" stroke="#222" stroke-width="0.12" >1.50</text>
<text x="167.0" y="398.6" font-size="7.6" text-anchor="middle" fill="#222" font-weight="normal" textLength="8.8" lengthAdjust="spacingAndGlyphs" stroke="#222" stroke-width="0.2" >0.0</text>
<text x="220.4" y="398.6" font-size="7.6" text-anchor="middle" fill="#222" font-weight="normal" textLength="8.8" lengthAdjust="spacingAndGlyphs" stroke="#222" stroke-width="0.2" >0.2</text>
<text x="273.8" y="398.6" font-size="7.6" text-anchor="middle" fill="#222" font-weight="normal" textLength="8.8" lengthAdjust="spacingAndGlyphs" stroke="#222" stroke-width="0.2" >0.4</text>
<text x="327.2" y="398.6" font-size="7.6" text-anchor="middle" fill="#222" font-weight="normal" textLength="8.8" lengthAdjust="spacingAndGlyphs" stroke="#222" stroke-width="0.2" >0.6</text>
<text x="380.6" y="398.6" font-size="7.6" text-anchor="middle" fill="#222" font-weight="normal" textLength="8.8" lengthAdjust="spacingAndGlyphs" stroke="#222" stroke-width="0.2" >0.8</text>
<text x="267.7" y="408.6" font-size="10.4" text-anchor="middle" fill="#222" font-weight="normal" textLength="68.3" lengthAdjust="spacingAndGlyphs" stroke="#222" stroke-width="0.2" >Frequency(THz)</text>
<text transform="translate(141.2,303.4) rotate(-90)" font-size="9.7" text-anchor="middle" fill="#222" textLength="93.4" lengthAdjust="spacingAndGlyphs" stroke="#222" stroke-width="0.2" >Refraction Index(a.u.)</text>
<text x="134.6" y="218.8" font-size="13.0" text-anchor="start" fill="#111" font-weight="bold" >c)</text>
<line x1="231.5" y1="225.9" x2="250" y2="225.9" stroke="#3a3a3a" stroke-width="1.15"/>
<line x1="231.5" y1="235.5" x2="250" y2="235.5" stroke="#e0283c" stroke-width="1.15"/>
<text x="252.0" y="227.0" font-size="7.9" text-anchor="start" fill="#222" font-weight="normal" textLength="17.5" lengthAdjust="spacingAndGlyphs" stroke="#222" stroke-width="0.12" >COC</text>
<text x="252.0" y="238.0" font-size="7.9" text-anchor="start" fill="#222" font-weight="normal" textLength="122.0" lengthAdjust="spacingAndGlyphs" stroke="#222" stroke-width="0.12" >Liquid photosensitive resin at 1000V</text>
</svg>
</body></html>
